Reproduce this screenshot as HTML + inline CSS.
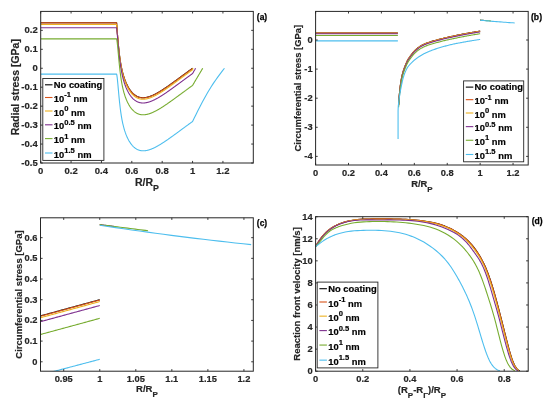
<!DOCTYPE html>
<html><head><meta charset="utf-8"><title>figure</title>
<style>html,body{margin:0;padding:0;background:#fff}svg{display:block}</style></head>
<body>
<svg width="550" height="404" viewBox="0 0 550 404">
<style>
text{font-family:"Liberation Sans", sans-serif;font-weight:bold;fill:#262626;stroke:#262626;stroke-width:.18px}
.lg{font-size:9.4px;fill:#000;stroke:#000}
.tg{font-size:9.7px;fill:#000;stroke:#000;stroke-width:0.25px}
.sp{font-size:7.6px}
</style>
<rect width="550" height="404" fill="#fff"/>
<clipPath id="cpa"><rect x="40.7" y="11.4" width="212.60000000000002" height="151.6"/></clipPath>
<polyline points="40.70,22.77 116.63,22.77 116.63,22.77 116.88,26.34 117.14,29.83 117.39,33.20 117.64,36.44 117.90,39.51 118.15,42.42 118.41,45.17 118.66,47.75 118.91,50.17 119.17,52.44 119.42,54.56 119.68,56.55 119.93,58.41 120.18,60.15 120.44,61.78 120.69,63.32 120.95,64.76 121.20,66.12 121.45,67.41 121.71,68.62 121.96,69.77 122.22,70.86 122.47,71.90 122.72,72.89 122.98,73.84 123.23,74.74 123.48,75.60 123.74,76.43 123.99,77.22 124.25,77.99 124.50,78.72 124.75,79.43 125.01,80.12 125.26,80.78 125.52,81.41 125.77,82.03 126.02,82.63 126.28,83.20 126.53,83.76 126.79,84.30 127.04,84.83 127.29,85.34 127.55,85.83 127.80,86.31 128.06,86.77 128.31,87.22 128.56,87.66 128.82,88.09 129.07,88.50 129.33,88.90 129.58,89.28 129.83,89.66 130.09,90.02 130.34,90.38 130.60,90.72 130.85,91.05 131.10,91.37 131.36,91.68 131.61,91.98 131.87,92.27 132.12,92.56 132.37,92.83 132.63,93.09 132.88,93.34 133.13,93.59 133.39,93.83 133.64,94.05 133.90,94.27 134.15,94.49 134.40,94.69 134.66,94.88 134.91,95.07 135.17,95.25 135.42,95.42 135.67,95.59 135.93,95.75 136.18,95.90 136.44,96.04 136.69,96.18 136.94,96.31 137.20,96.43 137.45,96.55 137.71,96.66 137.96,96.77 138.21,96.87 138.47,96.96 138.72,97.04 138.98,97.13 139.23,97.20 139.48,97.27 139.74,97.33 139.99,97.39 140.25,97.45 140.50,97.49 140.75,97.54 141.01,97.58 141.26,97.61 141.51,97.64 141.77,97.66 142.02,97.68 142.28,97.69 142.53,97.71 142.78,97.71 143.04,97.71 143.29,97.71 143.55,97.70 143.80,97.69 144.05,97.68 144.31,97.66 144.56,97.64 144.82,97.61 145.07,97.58 145.32,97.55 145.58,97.51 145.83,97.47 146.09,97.42 146.34,97.38 146.59,97.33 146.85,97.27 147.10,97.22 147.36,97.16 147.61,97.09 147.86,97.03 148.12,96.96 148.37,96.89 148.63,96.81 148.88,96.74 149.13,96.66 149.39,96.57 149.64,96.49 149.89,96.40 150.15,96.31 150.40,96.22 150.66,96.12 150.91,96.03 151.16,95.93 151.42,95.83 151.67,95.72 151.93,95.62 152.18,95.51 152.43,95.40 152.69,95.29 152.94,95.17 153.20,95.06 153.45,94.94 153.70,94.82 153.96,94.70 154.21,94.58 154.47,94.45 154.72,94.33 154.97,94.20 155.23,94.07 155.48,93.94 155.74,93.81 155.99,93.67 156.24,93.54 156.50,93.40 156.75,93.26 157.01,93.12 157.26,92.98 157.51,92.84 157.77,92.69 158.02,92.55 158.28,92.40 158.53,92.25 158.78,92.10 159.04,91.95 159.29,91.80 159.54,91.65 159.80,91.50 160.05,91.34 160.31,91.19 160.56,91.03 160.81,90.88 161.07,90.72 161.32,90.56 161.58,90.40 161.83,90.24 162.08,90.07 162.34,89.91 162.59,89.75 162.85,89.58 163.10,89.42 163.35,89.25 163.61,89.09 163.86,88.92 164.12,88.75 164.37,88.58 164.62,88.41 164.88,88.24 165.13,88.07 165.39,87.90 165.64,87.73 165.89,87.56 166.15,87.38 166.40,87.21 166.66,87.03 166.91,86.86 167.16,86.68 167.42,86.51 167.67,86.33 167.92,86.16 168.18,85.98 168.43,85.80 168.69,85.62 168.94,85.44 169.19,85.26 169.45,85.09 169.70,84.91 169.96,84.73 170.21,84.55 170.46,84.36 170.72,84.18 170.97,84.00 171.23,83.82 171.48,83.64 171.73,83.46 171.99,83.27 172.24,83.09 172.50,82.91 172.75,82.72 173.00,82.54 173.26,82.36 173.51,82.17 173.77,81.99 174.02,81.80 174.27,81.62 174.53,81.43 174.78,81.25 175.04,81.06 175.29,80.88 175.54,80.69 175.80,80.51 176.05,80.32 176.30,80.13 176.56,79.95 176.81,79.76 177.07,79.58 177.32,79.39 177.57,79.20 177.83,79.02 178.08,78.83 178.34,78.64 178.59,78.46 178.84,78.27 179.10,78.08 179.35,77.90 179.61,77.71 179.86,77.52 180.11,77.34 180.37,77.15 180.62,76.96 180.88,76.77 181.13,76.59 181.38,76.40 181.64,76.21 181.89,76.03 182.15,75.84 182.40,75.65 182.65,75.47 182.91,75.28 183.16,75.09 183.42,74.91 183.67,74.72 183.92,74.53 184.18,74.35 184.43,74.16 184.68,73.97 184.94,73.79 185.19,73.60 185.45,73.41 185.70,73.23 185.95,73.04 186.21,72.86 186.46,72.67 186.72,72.48 186.97,72.30 187.22,72.11 187.48,71.93 187.73,71.74 187.99,71.56 188.24,71.37 188.49,71.19 188.75,71.00 189.00,70.82 189.26,70.63 189.51,70.45 189.76,70.27 190.02,70.08 190.27,69.90 190.53,69.71 190.78,69.53 191.03,69.35 191.29,69.16 191.54,68.98 191.80,68.80 192.05,68.62 192.30,68.43 192.56,68.25" fill="none" stroke="#000000" stroke-width="1.1" stroke-linejoin="round" clip-path="url(#cpa)"/>
<polyline points="40.70,22.92 116.63,22.92 116.63,22.92 116.88,26.49 117.14,29.99 117.39,33.36 117.64,36.59 117.90,39.67 118.15,42.58 118.41,45.33 118.66,47.91 118.91,50.33 119.17,52.60 119.42,54.72 119.68,56.71 119.93,58.57 120.18,60.31 120.44,61.95 120.69,63.48 120.95,64.93 121.20,66.29 121.45,67.57 121.71,68.79 121.96,69.94 122.22,71.03 122.47,72.07 122.72,73.06 122.98,74.00 123.23,74.91 123.48,75.77 123.74,76.60 123.99,77.39 124.25,78.16 124.50,78.89 124.75,79.60 125.01,80.29 125.26,80.95 125.52,81.58 125.77,82.20 126.02,82.80 126.28,83.38 126.53,83.93 126.79,84.48 127.04,85.00 127.29,85.51 127.55,86.01 127.80,86.48 128.06,86.95 128.31,87.40 128.56,87.84 128.82,88.26 129.07,88.67 129.33,89.07 129.58,89.46 129.83,89.84 130.09,90.20 130.34,90.55 130.60,90.90 130.85,91.23 131.10,91.55 131.36,91.86 131.61,92.16 131.87,92.45 132.12,92.74 132.37,93.01 132.63,93.27 132.88,93.53 133.13,93.77 133.39,94.01 133.64,94.24 133.90,94.46 134.15,94.67 134.40,94.87 134.66,95.07 134.91,95.25 135.17,95.43 135.42,95.61 135.67,95.77 135.93,95.93 136.18,96.08 136.44,96.23 136.69,96.36 136.94,96.49 137.20,96.62 137.45,96.73 137.71,96.85 137.96,96.95 138.21,97.05 138.47,97.14 138.72,97.23 138.98,97.31 139.23,97.39 139.48,97.46 139.74,97.52 139.99,97.58 140.25,97.63 140.50,97.68 140.75,97.72 141.01,97.76 141.26,97.79 141.51,97.82 141.77,97.85 142.02,97.87 142.28,97.88 142.53,97.89 142.78,97.90 143.04,97.90 143.29,97.90 143.55,97.89 143.80,97.88 144.05,97.86 144.31,97.85 144.56,97.82 144.82,97.80 145.07,97.77 145.32,97.73 145.58,97.70 145.83,97.66 146.09,97.61 146.34,97.56 146.59,97.51 146.85,97.46 147.10,97.40 147.36,97.34 147.61,97.28 147.86,97.22 148.12,97.15 148.37,97.07 148.63,97.00 148.88,96.92 149.13,96.84 149.39,96.76 149.64,96.68 149.89,96.59 150.15,96.50 150.40,96.41 150.66,96.31 150.91,96.22 151.16,96.12 151.42,96.02 151.67,95.91 151.93,95.81 152.18,95.70 152.43,95.59 152.69,95.48 152.94,95.36 153.20,95.25 153.45,95.13 153.70,95.01 153.96,94.89 154.21,94.77 154.47,94.64 154.72,94.52 154.97,94.39 155.23,94.26 155.48,94.13 155.74,93.99 155.99,93.86 156.24,93.72 156.50,93.59 156.75,93.45 157.01,93.31 157.26,93.17 157.51,93.03 157.77,92.88 158.02,92.74 158.28,92.59 158.53,92.44 158.78,92.29 159.04,92.14 159.29,91.99 159.54,91.84 159.80,91.69 160.05,91.53 160.31,91.38 160.56,91.22 160.81,91.06 161.07,90.91 161.32,90.75 161.58,90.59 161.83,90.43 162.08,90.26 162.34,90.10 162.59,89.94 162.85,89.77 163.10,89.61 163.35,89.44 163.61,89.28 163.86,89.11 164.12,88.94 164.37,88.77 164.62,88.60 164.88,88.43 165.13,88.26 165.39,88.09 165.64,87.92 165.89,87.75 166.15,87.57 166.40,87.40 166.66,87.22 166.91,87.05 167.16,86.87 167.42,86.70 167.67,86.52 167.92,86.34 168.18,86.17 168.43,85.99 168.69,85.81 168.94,85.63 169.19,85.45 169.45,85.28 169.70,85.10 169.96,84.92 170.21,84.73 170.46,84.55 170.72,84.37 170.97,84.19 171.23,84.01 171.48,83.83 171.73,83.65 171.99,83.46 172.24,83.28 172.50,83.10 172.75,82.91 173.00,82.73 173.26,82.55 173.51,82.36 173.77,82.18 174.02,81.99 174.27,81.81 174.53,81.62 174.78,81.44 175.04,81.25 175.29,81.07 175.54,80.88 175.80,80.70 176.05,80.51 176.30,80.32 176.56,80.14 176.81,79.95 177.07,79.77 177.32,79.58 177.57,79.39 177.83,79.21 178.08,79.02 178.34,78.83 178.59,78.65 178.84,78.46 179.10,78.27 179.35,78.09 179.61,77.90 179.86,77.71 180.11,77.53 180.37,77.34 180.62,77.15 180.88,76.96 181.13,76.78 181.38,76.59 181.64,76.40 181.89,76.22 182.15,76.03 182.40,75.84 182.65,75.66 182.91,75.47 183.16,75.28 183.42,75.10 183.67,74.91 183.92,74.72 184.18,74.54 184.43,74.35 184.68,74.16 184.94,73.98 185.19,73.79 185.45,73.60 185.70,73.42 185.95,73.23 186.21,73.05 186.46,72.86 186.72,72.67 186.97,72.49 187.22,72.30 187.48,72.12 187.73,71.93 187.99,71.75 188.24,71.56 188.49,71.38 188.75,71.19 189.00,71.01 189.26,70.82 189.51,70.64 189.76,70.46 190.02,70.27 190.27,70.09 190.53,69.90 190.78,69.72 191.03,69.54 191.29,69.35 191.54,69.17 191.80,68.99 192.05,68.80 192.30,68.62 192.56,68.44" fill="none" stroke="#d95319" stroke-width="1.1" stroke-linejoin="round" clip-path="url(#cpa)"/>
<polyline points="40.70,24.48 116.63,24.48 116.63,24.48 116.88,27.47 117.14,30.54 117.39,33.63 117.64,36.69 117.90,39.67 118.15,42.55 118.41,45.31 118.66,47.93 118.91,50.42 119.17,52.76 119.42,54.96 119.68,57.04 119.93,58.98 120.18,60.81 120.44,62.52 120.69,64.13 120.95,65.64 121.20,67.06 121.45,68.41 121.71,69.67 121.96,70.87 122.22,72.01 122.47,73.09 122.72,74.11 122.98,75.09 123.23,76.02 123.48,76.91 123.74,77.76 123.99,78.58 124.25,79.36 124.50,80.12 124.75,80.84 125.01,81.54 125.26,82.21 125.52,82.86 125.77,83.49 126.02,84.10 126.28,84.68 126.53,85.25 126.79,85.80 127.04,86.33 127.29,86.85 127.55,87.35 127.80,87.83 128.06,88.30 128.31,88.75 128.56,89.19 128.82,89.62 129.07,90.03 129.33,90.44 129.58,90.82 129.83,91.20 130.09,91.57 130.34,91.92 130.60,92.27 130.85,92.60 131.10,92.92 131.36,93.23 131.61,93.53 131.87,93.82 132.12,94.11 132.37,94.38 132.63,94.64 132.88,94.90 133.13,95.14 133.39,95.38 133.64,95.60 133.90,95.82 134.15,96.03 134.40,96.24 134.66,96.43 134.91,96.62 135.17,96.80 135.42,96.97 135.67,97.14 135.93,97.29 136.18,97.44 136.44,97.59 136.69,97.72 136.94,97.85 137.20,97.98 137.45,98.09 137.71,98.20 137.96,98.31 138.21,98.41 138.47,98.50 138.72,98.58 138.98,98.66 139.23,98.74 139.48,98.81 139.74,98.87 139.99,98.93 140.25,98.98 140.50,99.03 140.75,99.07 141.01,99.11 141.26,99.14 141.51,99.17 141.77,99.19 142.02,99.21 142.28,99.23 142.53,99.24 142.78,99.24 143.04,99.24 143.29,99.24 143.55,99.23 143.80,99.22 144.05,99.21 144.31,99.19 144.56,99.16 144.82,99.14 145.07,99.11 145.32,99.07 145.58,99.04 145.83,98.99 146.09,98.95 146.34,98.90 146.59,98.85 146.85,98.80 147.10,98.74 147.36,98.68 147.61,98.62 147.86,98.55 148.12,98.48 148.37,98.41 148.63,98.34 148.88,98.26 149.13,98.18 149.39,98.10 149.64,98.01 149.89,97.92 150.15,97.83 150.40,97.74 150.66,97.65 150.91,97.55 151.16,97.45 151.42,97.35 151.67,97.24 151.93,97.14 152.18,97.03 152.43,96.92 152.69,96.81 152.94,96.69 153.20,96.58 153.45,96.46 153.70,96.34 153.96,96.22 154.21,96.10 154.47,95.97 154.72,95.85 154.97,95.72 155.23,95.59 155.48,95.46 155.74,95.32 155.99,95.19 156.24,95.05 156.50,94.92 156.75,94.78 157.01,94.64 157.26,94.50 157.51,94.35 157.77,94.21 158.02,94.07 158.28,93.92 158.53,93.77 158.78,93.62 159.04,93.47 159.29,93.32 159.54,93.17 159.80,93.02 160.05,92.86 160.31,92.71 160.56,92.55 160.81,92.39 161.07,92.23 161.32,92.07 161.58,91.91 161.83,91.75 162.08,91.59 162.34,91.43 162.59,91.27 162.85,91.10 163.10,90.94 163.35,90.77 163.61,90.60 163.86,90.44 164.12,90.27 164.37,90.10 164.62,89.93 164.88,89.76 165.13,89.59 165.39,89.42 165.64,89.24 165.89,89.07 166.15,88.90 166.40,88.73 166.66,88.55 166.91,88.38 167.16,88.20 167.42,88.02 167.67,87.85 167.92,87.67 168.18,87.49 168.43,87.32 168.69,87.14 168.94,86.96 169.19,86.78 169.45,86.60 169.70,86.42 169.96,86.24 170.21,86.06 170.46,85.88 170.72,85.70 170.97,85.52 171.23,85.34 171.48,85.15 171.73,84.97 171.99,84.79 172.24,84.61 172.50,84.42 172.75,84.24 173.00,84.06 173.26,83.87 173.51,83.69 173.77,83.50 174.02,83.32 174.27,83.13 174.53,82.95 174.78,82.76 175.04,82.58 175.29,82.39 175.54,82.21 175.80,82.02 176.05,81.84 176.30,81.65 176.56,81.46 176.81,81.28 177.07,81.09 177.32,80.91 177.57,80.72 177.83,80.53 178.08,80.35 178.34,80.16 178.59,79.97 178.84,79.79 179.10,79.60 179.35,79.41 179.61,79.23 179.86,79.04 180.11,78.85 180.37,78.66 180.62,78.48 180.88,78.29 181.13,78.10 181.38,77.92 181.64,77.73 181.89,77.54 182.15,77.36 182.40,77.17 182.65,76.98 182.91,76.80 183.16,76.61 183.42,76.42 183.67,76.24 183.92,76.05 184.18,75.86 184.43,75.68 184.68,75.49 184.94,75.30 185.19,75.12 185.45,74.93 185.70,74.74 185.95,74.56 186.21,74.37 186.46,74.19 186.72,74.00 186.97,73.82 187.22,73.63 187.48,73.44 187.73,73.26 187.99,73.07 188.24,72.89 188.49,72.70 188.75,72.52 189.00,72.33 189.26,72.15 189.51,71.97 189.76,71.78 190.02,71.60 190.27,71.41 190.53,71.23 190.78,71.05 191.03,70.86 191.29,70.68 191.54,70.50 191.80,70.31 192.05,70.13 192.30,69.95 192.56,69.77 192.56,69.77 192.58,69.69 192.61,69.61 192.63,69.53 192.65,69.45 192.68,69.37 192.70,69.29 192.72,69.21 192.75,69.13 192.77,69.05 192.80,68.97 192.82,68.89 192.84,68.81 192.87,68.73 192.89,68.65 192.92,68.57 192.94,68.49 192.96,68.41 192.99,68.33 193.01,68.25" fill="none" stroke="#edb120" stroke-width="1.1" stroke-linejoin="round" clip-path="url(#cpa)"/>
<polyline points="40.70,27.70 116.63,27.70 116.63,27.70 116.88,30.12 117.14,32.78 117.39,35.58 117.64,38.47 117.90,41.36 118.15,44.21 118.41,46.99 118.66,49.67 118.91,52.23 119.17,54.67 119.42,56.98 119.68,59.15 119.93,61.20 120.18,63.12 120.44,64.93 120.69,66.63 120.95,68.23 121.20,69.73 121.45,71.15 121.71,72.48 121.96,73.74 122.22,74.93 122.47,76.06 122.72,77.14 122.98,78.16 123.23,79.13 123.48,80.06 123.74,80.94 123.99,81.79 124.25,82.61 124.50,83.39 124.75,84.14 125.01,84.86 125.26,85.56 125.52,86.23 125.77,86.87 126.02,87.50 126.28,88.10 126.53,88.68 126.79,89.25 127.04,89.79 127.29,90.32 127.55,90.83 127.80,91.33 128.06,91.81 128.31,92.27 128.56,92.73 128.82,93.16 129.07,93.59 129.33,94.00 129.58,94.39 129.83,94.78 130.09,95.15 130.34,95.51 130.60,95.86 130.85,96.20 131.10,96.53 131.36,96.85 131.61,97.15 131.87,97.45 132.12,97.74 132.37,98.01 132.63,98.28 132.88,98.54 133.13,98.79 133.39,99.03 133.64,99.26 133.90,99.49 134.15,99.70 134.40,99.91 134.66,100.11 134.91,100.30 135.17,100.48 135.42,100.65 135.67,100.82 135.93,100.98 136.18,101.14 136.44,101.28 136.69,101.42 136.94,101.55 137.20,101.68 137.45,101.80 137.71,101.91 137.96,102.02 138.21,102.12 138.47,102.21 138.72,102.30 138.98,102.38 139.23,102.46 139.48,102.53 139.74,102.60 139.99,102.66 140.25,102.71 140.50,102.76 140.75,102.80 141.01,102.84 141.26,102.88 141.51,102.91 141.77,102.93 142.02,102.95 142.28,102.97 142.53,102.98 142.78,102.99 143.04,102.99 143.29,102.99 143.55,102.98 143.80,102.97 144.05,102.96 144.31,102.94 144.56,102.92 144.82,102.89 145.07,102.86 145.32,102.83 145.58,102.79 145.83,102.75 146.09,102.71 146.34,102.66 146.59,102.61 146.85,102.56 147.10,102.50 147.36,102.45 147.61,102.38 147.86,102.32 148.12,102.25 148.37,102.18 148.63,102.10 148.88,102.03 149.13,101.95 149.39,101.87 149.64,101.78 149.89,101.70 150.15,101.61 150.40,101.51 150.66,101.42 150.91,101.32 151.16,101.22 151.42,101.12 151.67,101.02 151.93,100.91 152.18,100.81 152.43,100.70 152.69,100.59 152.94,100.47 153.20,100.36 153.45,100.24 153.70,100.12 153.96,100.00 154.21,99.88 154.47,99.75 154.72,99.63 154.97,99.50 155.23,99.37 155.48,99.24 155.74,99.11 155.99,98.97 156.24,98.84 156.50,98.70 156.75,98.56 157.01,98.42 157.26,98.28 157.51,98.14 157.77,98.00 158.02,97.85 158.28,97.70 158.53,97.56 158.78,97.41 159.04,97.26 159.29,97.11 159.54,96.96 159.80,96.80 160.05,96.65 160.31,96.49 160.56,96.34 160.81,96.18 161.07,96.02 161.32,95.86 161.58,95.70 161.83,95.54 162.08,95.38 162.34,95.22 162.59,95.05 162.85,94.89 163.10,94.72 163.35,94.56 163.61,94.39 163.86,94.22 164.12,94.06 164.37,93.89 164.62,93.72 164.88,93.55 165.13,93.38 165.39,93.21 165.64,93.03 165.89,92.86 166.15,92.69 166.40,92.51 166.66,92.34 166.91,92.17 167.16,91.99 167.42,91.81 167.67,91.64 167.92,91.46 168.18,91.28 168.43,91.11 168.69,90.93 168.94,90.75 169.19,90.57 169.45,90.39 169.70,90.21 169.96,90.03 170.21,89.85 170.46,89.67 170.72,89.49 170.97,89.31 171.23,89.13 171.48,88.94 171.73,88.76 171.99,88.58 172.24,88.40 172.50,88.21 172.75,88.03 173.00,87.85 173.26,87.66 173.51,87.48 173.77,87.29 174.02,87.11 174.27,86.92 174.53,86.74 174.78,86.55 175.04,86.37 175.29,86.18 175.54,86.00 175.80,85.81 176.05,85.63 176.30,85.44 176.56,85.25 176.81,85.07 177.07,84.88 177.32,84.70 177.57,84.51 177.83,84.32 178.08,84.14 178.34,83.95 178.59,83.76 178.84,83.58 179.10,83.39 179.35,83.20 179.61,83.02 179.86,82.83 180.11,82.64 180.37,82.45 180.62,82.27 180.88,82.08 181.13,81.89 181.38,81.71 181.64,81.52 181.89,81.33 182.15,81.15 182.40,80.96 182.65,80.77 182.91,80.59 183.16,80.40 183.42,80.21 183.67,80.03 183.92,79.84 184.18,79.65 184.43,79.47 184.68,79.28 184.94,79.09 185.19,78.91 185.45,78.72 185.70,78.53 185.95,78.35 186.21,78.16 186.46,77.98 186.72,77.79 186.97,77.61 187.22,77.42 187.48,77.23 187.73,77.05 187.99,76.86 188.24,76.68 188.49,76.49 188.75,76.31 189.00,76.12 189.26,75.94 189.51,75.76 189.76,75.57 190.02,75.39 190.27,75.20 190.53,75.02 190.78,74.84 191.03,74.65 191.29,74.47 191.54,74.29 191.80,74.10 192.05,73.92 192.30,73.74 192.56,73.56 192.56,73.56 192.72,73.28 192.88,73.00 193.04,72.72 193.20,72.44 193.36,72.16 193.52,71.88 193.68,71.60 193.84,71.32 194.00,71.04 194.16,70.76 194.32,70.48 194.48,70.20 194.64,69.93 194.80,69.65 194.95,69.37 195.11,69.09 195.27,68.81 195.43,68.53 195.59,68.25" fill="none" stroke="#7e2f8e" stroke-width="1.1" stroke-linejoin="round" clip-path="url(#cpa)"/>
<polyline points="40.70,38.88 116.63,38.88 116.63,38.88 116.88,40.12 117.14,41.89 117.39,44.07 117.64,46.55 117.90,49.22 118.15,51.99 118.41,54.80 118.66,57.58 118.91,60.30 119.17,62.93 119.42,65.45 119.68,67.84 119.93,70.11 120.18,72.25 120.44,74.26 120.69,76.15 120.95,77.92 121.20,79.59 121.45,81.15 121.71,82.62 121.96,84.01 122.22,85.31 122.47,86.55 122.72,87.72 122.98,88.82 123.23,89.88 123.48,90.88 123.74,91.83 123.99,92.74 124.25,93.61 124.50,94.44 124.75,95.24 125.01,96.00 125.26,96.74 125.52,97.45 125.77,98.13 126.02,98.78 126.28,99.42 126.53,100.03 126.79,100.62 127.04,101.19 127.29,101.74 127.55,102.27 127.80,102.79 128.06,103.29 128.31,103.77 128.56,104.24 128.82,104.69 129.07,105.13 129.33,105.55 129.58,105.96 129.83,106.36 130.09,106.74 130.34,107.11 130.60,107.47 130.85,107.82 131.10,108.16 131.36,108.48 131.61,108.80 131.87,109.10 132.12,109.40 132.37,109.68 132.63,109.96 132.88,110.22 133.13,110.48 133.39,110.72 133.64,110.96 133.90,111.19 134.15,111.41 134.40,111.62 134.66,111.82 134.91,112.02 135.17,112.21 135.42,112.39 135.67,112.56 135.93,112.72 136.18,112.88 136.44,113.03 136.69,113.17 136.94,113.31 137.20,113.44 137.45,113.56 137.71,113.68 137.96,113.78 138.21,113.89 138.47,113.98 138.72,114.08 138.98,114.16 139.23,114.24 139.48,114.31 139.74,114.38 139.99,114.44 140.25,114.50 140.50,114.55 140.75,114.60 141.01,114.64 141.26,114.68 141.51,114.71 141.77,114.73 142.02,114.76 142.28,114.77 142.53,114.79 142.78,114.80 143.04,114.80 143.29,114.80 143.55,114.79 143.80,114.79 144.05,114.77 144.31,114.76 144.56,114.74 144.82,114.71 145.07,114.68 145.32,114.65 145.58,114.62 145.83,114.58 146.09,114.54 146.34,114.49 146.59,114.44 146.85,114.39 147.10,114.34 147.36,114.28 147.61,114.22 147.86,114.15 148.12,114.08 148.37,114.01 148.63,113.94 148.88,113.87 149.13,113.79 149.39,113.71 149.64,113.62 149.89,113.54 150.15,113.45 150.40,113.36 150.66,113.26 150.91,113.17 151.16,113.07 151.42,112.97 151.67,112.87 151.93,112.76 152.18,112.65 152.43,112.55 152.69,112.43 152.94,112.32 153.20,112.21 153.45,112.09 153.70,111.97 153.96,111.85 154.21,111.73 154.47,111.61 154.72,111.48 154.97,111.35 155.23,111.22 155.48,111.09 155.74,110.96 155.99,110.83 156.24,110.69 156.50,110.56 156.75,110.42 157.01,110.28 157.26,110.14 157.51,109.99 157.77,109.85 158.02,109.71 158.28,109.56 158.53,109.41 158.78,109.27 159.04,109.12 159.29,108.96 159.54,108.81 159.80,108.66 160.05,108.51 160.31,108.35 160.56,108.20 160.81,108.04 161.07,107.88 161.32,107.72 161.58,107.56 161.83,107.40 162.08,107.24 162.34,107.08 162.59,106.91 162.85,106.75 163.10,106.58 163.35,106.42 163.61,106.25 163.86,106.08 164.12,105.92 164.37,105.75 164.62,105.58 164.88,105.41 165.13,105.24 165.39,105.07 165.64,104.90 165.89,104.72 166.15,104.55 166.40,104.38 166.66,104.20 166.91,104.03 167.16,103.85 167.42,103.68 167.67,103.50 167.92,103.32 168.18,103.15 168.43,102.97 168.69,102.79 168.94,102.61 169.19,102.43 169.45,102.25 169.70,102.07 169.96,101.89 170.21,101.71 170.46,101.53 170.72,101.35 170.97,101.17 171.23,100.99 171.48,100.81 171.73,100.62 171.99,100.44 172.24,100.26 172.50,100.08 172.75,99.89 173.00,99.71 173.26,99.52 173.51,99.34 173.77,99.16 174.02,98.97 174.27,98.79 174.53,98.60 174.78,98.42 175.04,98.23 175.29,98.05 175.54,97.86 175.80,97.68 176.05,97.49 176.30,97.30 176.56,97.12 176.81,96.93 177.07,96.74 177.32,96.56 177.57,96.37 177.83,96.19 178.08,96.00 178.34,95.81 178.59,95.63 178.84,95.44 179.10,95.25 179.35,95.07 179.61,94.88 179.86,94.69 180.11,94.50 180.37,94.32 180.62,94.13 180.88,93.94 181.13,93.76 181.38,93.57 181.64,93.38 181.89,93.20 182.15,93.01 182.40,92.82 182.65,92.64 182.91,92.45 183.16,92.26 183.42,92.07 183.67,91.89 183.92,91.70 184.18,91.51 184.43,91.33 184.68,91.14 184.94,90.96 185.19,90.77 185.45,90.58 185.70,90.40 185.95,90.21 186.21,90.03 186.46,89.84 186.72,89.65 186.97,89.47 187.22,89.28 187.48,89.10 187.73,88.91 187.99,88.73 188.24,88.54 188.49,88.36 188.75,88.17 189.00,87.99 189.26,87.80 189.51,87.62 189.76,87.43 190.02,87.25 190.27,87.07 190.53,86.88 190.78,86.70 191.03,86.52 191.29,86.33 191.54,86.15 191.80,85.97 192.05,85.78 192.30,85.60 192.56,85.42 192.56,85.42 193.09,84.52 193.63,83.61 194.16,82.71 194.70,81.80 195.23,80.90 195.77,80.00 196.31,79.09 196.84,78.19 197.38,77.29 197.91,76.38 198.45,75.48 198.98,74.58 199.52,73.67 200.05,72.77 200.59,71.86 201.13,70.96 201.66,70.06 202.20,69.15 202.73,68.25" fill="none" stroke="#77ac30" stroke-width="1.1" stroke-linejoin="round" clip-path="url(#cpa)"/>
<polyline points="40.70,74.12 116.63,74.12 116.63,74.13 116.88,75.38 117.14,77.17 117.39,79.37 117.64,81.86 117.90,84.55 118.15,87.33 118.41,90.15 118.66,92.95 118.91,95.69 119.17,98.33 119.42,100.86 119.68,103.27 119.93,105.55 120.18,107.70 120.44,109.73 120.69,111.63 120.95,113.41 121.20,115.09 121.45,116.67 121.71,118.15 121.96,119.55 122.22,120.87 122.47,122.11 122.72,123.29 122.98,124.41 123.23,125.47 123.48,126.48 123.74,127.45 123.99,128.37 124.25,129.25 124.50,130.09 124.75,130.90 125.01,131.67 125.26,132.42 125.52,133.13 125.77,133.82 126.02,134.49 126.28,135.13 126.53,135.75 126.79,136.35 127.04,136.93 127.29,137.48 127.55,138.03 127.80,138.55 128.06,139.05 128.31,139.54 128.56,140.02 128.82,140.48 129.07,140.92 129.33,141.35 129.58,141.77 129.83,142.17 130.09,142.56 130.34,142.94 130.60,143.31 130.85,143.66 131.10,144.00 131.36,144.34 131.61,144.66 131.87,144.97 132.12,145.27 132.37,145.56 132.63,145.84 132.88,146.11 133.13,146.37 133.39,146.62 133.64,146.86 133.90,147.09 134.15,147.32 134.40,147.53 134.66,147.74 134.91,147.94 135.17,148.13 135.42,148.32 135.67,148.49 135.93,148.66 136.18,148.82 136.44,148.97 136.69,149.12 136.94,149.26 137.20,149.39 137.45,149.52 137.71,149.64 137.96,149.75 138.21,149.86 138.47,149.96 138.72,150.05 138.98,150.14 139.23,150.22 139.48,150.30 139.74,150.37 139.99,150.43 140.25,150.49 140.50,150.55 140.75,150.60 141.01,150.64 141.26,150.68 141.51,150.71 141.77,150.74 142.02,150.76 142.28,150.78 142.53,150.80 142.78,150.81 143.04,150.82 143.29,150.82 143.55,150.82 143.80,150.81 144.05,150.80 144.31,150.78 144.56,150.76 144.82,150.74 145.07,150.72 145.32,150.69 145.58,150.65 145.83,150.61 146.09,150.57 146.34,150.53 146.59,150.48 146.85,150.43 147.10,150.38 147.36,150.32 147.61,150.26 147.86,150.20 148.12,150.13 148.37,150.06 148.63,149.99 148.88,149.92 149.13,149.84 149.39,149.76 149.64,149.68 149.89,149.59 150.15,149.50 150.40,149.41 150.66,149.32 150.91,149.23 151.16,149.13 151.42,149.03 151.67,148.93 151.93,148.82 152.18,148.72 152.43,148.61 152.69,148.50 152.94,148.39 153.20,148.27 153.45,148.16 153.70,148.04 153.96,147.92 154.21,147.80 154.47,147.67 154.72,147.55 154.97,147.42 155.23,147.29 155.48,147.16 155.74,147.03 155.99,146.90 156.24,146.76 156.50,146.63 156.75,146.49 157.01,146.35 157.26,146.21 157.51,146.07 157.77,145.92 158.02,145.78 158.28,145.63 158.53,145.49 158.78,145.34 159.04,145.19 159.29,145.04 159.54,144.89 159.80,144.74 160.05,144.58 160.31,144.43 160.56,144.27 160.81,144.11 161.07,143.96 161.32,143.80 161.58,143.64 161.83,143.48 162.08,143.32 162.34,143.15 162.59,142.99 162.85,142.83 163.10,142.66 163.35,142.50 163.61,142.33 163.86,142.16 164.12,142.00 164.37,141.83 164.62,141.66 164.88,141.49 165.13,141.32 165.39,141.15 165.64,140.97 165.89,140.80 166.15,140.63 166.40,140.46 166.66,140.28 166.91,140.11 167.16,139.93 167.42,139.76 167.67,139.58 167.92,139.40 168.18,139.23 168.43,139.05 168.69,138.87 168.94,138.69 169.19,138.51 169.45,138.33 169.70,138.15 169.96,137.97 170.21,137.79 170.46,137.61 170.72,137.43 170.97,137.25 171.23,137.07 171.48,136.89 171.73,136.70 171.99,136.52 172.24,136.34 172.50,136.16 172.75,135.97 173.00,135.79 173.26,135.60 173.51,135.42 173.77,135.24 174.02,135.05 174.27,134.87 174.53,134.68 174.78,134.50 175.04,134.31 175.29,134.13 175.54,133.94 175.80,133.76 176.05,133.57 176.30,133.38 176.56,133.20 176.81,133.01 177.07,132.83 177.32,132.64 177.57,132.45 177.83,132.27 178.08,132.08 178.34,131.89 178.59,131.71 178.84,131.52 179.10,131.33 179.35,131.15 179.61,130.96 179.86,130.77 180.11,130.59 180.37,130.40 180.62,130.21 180.88,130.02 181.13,129.84 181.38,129.65 181.64,129.46 181.89,129.28 182.15,129.09 182.40,128.90 182.65,128.72 182.91,128.53 183.16,128.34 183.42,128.16 183.67,127.97 183.92,127.78 184.18,127.60 184.43,127.41 184.68,127.22 184.94,127.04 185.19,126.85 185.45,126.66 185.70,126.48 185.95,126.29 186.21,126.11 186.46,125.92 186.72,125.73 186.97,125.55 187.22,125.36 187.48,125.18 187.73,124.99 187.99,124.81 188.24,124.62 188.49,124.44 188.75,124.25 189.00,124.07 189.26,123.88 189.51,123.70 189.76,123.52 190.02,123.33 190.27,123.15 190.53,122.96 190.78,122.78 191.03,122.60 191.29,122.41 191.54,122.23 191.80,122.05 192.05,121.86 192.30,121.68 192.56,121.50 192.56,121.50 194.24,118.07 195.91,114.66 197.59,111.29 199.27,107.96 200.95,104.70 202.63,101.51 204.31,98.41 205.98,95.40 207.66,92.50 209.34,89.70 211.02,87.00 212.70,84.40 214.38,81.89 216.06,79.47 217.73,77.13 219.41,74.85 221.09,72.62 222.77,70.43 224.45,68.25" fill="none" stroke="#4dbeee" stroke-width="1.1" stroke-linejoin="round" clip-path="url(#cpa)"/>
<rect x="40.7" y="11.4" width="212.60" height="151.60" fill="none" stroke="#262626" stroke-width="1"/>
<path d="M40.70,163.0v-2.1M40.70,11.4v2.1M71.07,163.0v-2.1M71.07,11.4v2.1M101.44,163.0v-2.1M101.44,11.4v2.1M131.81,163.0v-2.1M131.81,11.4v2.1M162.19,163.0v-2.1M162.19,11.4v2.1M192.56,163.0v-2.1M192.56,11.4v2.1M222.93,163.0v-2.1M222.93,11.4v2.1M40.7,163.00h2.1M253.3,163.00h-2.1M40.7,144.05h2.1M253.3,144.05h-2.1M40.7,125.10h2.1M253.3,125.10h-2.1M40.7,106.15h2.1M253.3,106.15h-2.1M40.7,87.20h2.1M253.3,87.20h-2.1M40.7,68.25h2.1M253.3,68.25h-2.1M40.7,49.30h2.1M253.3,49.30h-2.1M40.7,30.35h2.1M253.3,30.35h-2.1" stroke="#262626" stroke-width="0.9" fill="none"/>
<g font-size="9.5" text-anchor="middle">
<text x="40.70" y="173.70">0</text>
<text x="71.07" y="173.70">0.2</text>
<text x="101.44" y="173.70">0.4</text>
<text x="131.81" y="173.70">0.6</text>
<text x="162.19" y="173.70">0.8</text>
<text x="192.56" y="173.70">1</text>
<text x="222.93" y="173.70">1.2</text>
</g>
<g font-size="9.5" text-anchor="end">
<text x="37.70" y="166.00">-0.5</text>
<text x="37.70" y="147.05">-0.4</text>
<text x="37.70" y="128.10">-0.3</text>
<text x="37.70" y="109.15">-0.2</text>
<text x="37.70" y="90.20">-0.1</text>
<text x="37.70" y="71.25">0</text>
<text x="37.70" y="52.30">0.1</text>
<text x="37.70" y="33.35">0.2</text>
</g>
<text x="147.00" y="186.20" text-anchor="middle" font-size="10.5">R/R<tspan font-size="8.82" dy="5.25">P</tspan></text>
<text transform="translate(18.70,87.20) rotate(-90)" text-anchor="middle" font-size="10.5">Radial stress [GPa]</text>
<text x="256.8" y="19.7" class="tg" textLength="10.4" lengthAdjust="spacingAndGlyphs">(a)</text>
<rect x="42.8" y="78.5" width="61.10000000000001" height="81.9" fill="#fff" stroke="#262626" stroke-width="0.9"/>
<path d="M45.00,84.80h7.5" stroke="#000000" stroke-width="1.1"/>
<text x="53.80" y="87.80" class="lg">No coating</text>
<path d="M45.00,97.50h7.5" stroke="#d95319" stroke-width="1.1"/>
<text x="53.80" y="102.00" class="lg">10<tspan class="sp" dy="-4.6">-1</tspan><tspan dy="4.6"> nm</tspan></text>
<path d="M45.00,111.00h7.5" stroke="#edb120" stroke-width="1.1"/>
<text x="53.80" y="115.50" class="lg">10<tspan class="sp" dy="-4.6">0</tspan><tspan dy="4.6"> nm</tspan></text>
<path d="M45.00,124.80h7.5" stroke="#7e2f8e" stroke-width="1.1"/>
<text x="53.80" y="129.30" class="lg">10<tspan class="sp" dy="-4.6">0.5</tspan><tspan dy="4.6"> nm</tspan></text>
<path d="M45.00,138.60h7.5" stroke="#77ac30" stroke-width="1.1"/>
<text x="53.80" y="143.10" class="lg">10<tspan class="sp" dy="-4.6">1</tspan><tspan dy="4.6"> nm</tspan></text>
<path d="M45.00,153.00h7.5" stroke="#4dbeee" stroke-width="1.1"/>
<text x="53.80" y="157.50" class="lg">10<tspan class="sp" dy="-4.6">1.5</tspan><tspan dy="4.6"> nm</tspan></text>
<clipPath id="cpb"><rect x="315.6" y="11.4" width="212.60000000000002" height="153.6"/></clipPath>
<polyline points="315.60,33.02 397.88,33.02" fill="none" stroke="#000000" stroke-width="1.1" stroke-linejoin="round" clip-path="url(#cpb)"/>
<polyline points="398.62,104.72 398.75,102.65 398.88,100.74 399.01,98.89 399.14,97.14 399.28,95.48 399.41,93.93 399.54,92.47 399.67,91.12 399.80,89.87 399.94,88.72 400.07,87.61 400.20,86.55 400.33,85.54 400.46,84.57 400.60,83.64 400.73,82.75 400.86,81.90 400.99,81.08 401.13,80.30 401.26,79.55 401.39,78.83 401.52,78.13 401.65,77.46 401.79,76.82 401.92,76.21 402.05,75.61 402.18,75.04 402.31,74.49 402.45,73.96 402.58,73.45 402.71,72.96 402.84,72.48 402.97,72.02 403.11,71.57 403.24,71.13 403.37,70.71 403.50,70.30 403.63,69.90 403.77,69.51 403.90,69.12 404.03,68.75 404.16,68.39 404.29,68.03 404.43,67.67 404.56,67.33 404.69,66.98 404.82,66.64 404.95,66.31 405.09,65.97 405.22,65.64 405.35,65.31 405.48,64.98 405.61,64.65 405.75,64.32 405.88,64.00 406.01,63.68 406.14,63.37 406.28,63.06 406.41,62.75 406.54,62.45 406.67,62.15 406.80,61.86 406.94,61.58 407.07,61.30 407.20,61.02 407.33,60.76 407.46,60.50 407.60,60.24 407.73,60.00 407.86,59.76 407.99,59.53 408.12,59.31 408.26,59.08 408.39,58.87 408.52,58.66 408.65,58.45 408.78,58.25 408.92,58.05 409.05,57.85 409.18,57.66 409.31,57.47 409.44,57.28 409.58,57.09 409.71,56.90 409.84,56.72 409.97,56.54 410.10,56.36 410.24,56.17 410.37,55.99 410.50,55.81 410.63,55.63 410.77,55.45 410.90,55.27 411.03,55.09 411.16,54.91 411.29,54.73 411.43,54.56 411.56,54.38 411.69,54.21 411.82,54.03 411.95,53.86 412.09,53.69 412.22,53.52 412.35,53.35 412.48,53.18 412.61,53.02 412.75,52.85 412.88,52.69 413.01,52.53 413.14,52.37 413.27,52.22 413.41,52.07 413.54,51.91 413.67,51.76 413.80,51.62 413.93,51.47 414.07,51.33 414.20,51.19 414.33,51.06 415.16,50.23 416.00,49.46 416.83,48.73 417.66,48.05 418.50,47.41 419.33,46.83 420.16,46.28 421.00,45.76 421.83,45.28 422.66,44.82 423.50,44.40 424.33,44.02 425.16,43.67 426.00,43.33 426.83,43.02 427.66,42.73 428.49,42.44 429.33,42.17 430.16,41.90 430.99,41.64 431.83,41.38 432.66,41.13 433.49,40.88 434.33,40.64 435.16,40.41 435.99,40.18 436.83,39.96 437.66,39.73 438.49,39.51 439.33,39.29 440.16,39.07 440.99,38.85 441.83,38.64 442.66,38.42 443.49,38.21 444.32,38.01 445.16,37.81 445.99,37.61 446.82,37.42 447.66,37.24 448.49,37.06 449.32,36.88 450.16,36.70 450.99,36.53 451.82,36.35 452.66,36.18 453.49,36.00 454.32,35.82 455.16,35.65 455.99,35.48 456.82,35.30 457.66,35.13 458.49,34.96 459.32,34.79 460.16,34.63 460.99,34.46 461.82,34.30 462.65,34.14 463.49,33.98 464.32,33.82 465.15,33.66 465.99,33.51 466.82,33.35 467.65,33.20 468.49,33.05 469.32,32.90 470.15,32.75 470.99,32.60 471.82,32.46 472.65,32.31 473.49,32.17 474.32,32.03 475.15,31.89 475.99,31.75 476.82,31.61 477.65,31.47 478.48,31.34 479.32,31.20 480.15,31.07" fill="none" stroke="#000000" stroke-width="1.1" stroke-linejoin="round" clip-path="url(#cpb)"/>
<polyline points="315.60,33.04 397.88,33.04" fill="none" stroke="#d95319" stroke-width="1.1" stroke-linejoin="round" clip-path="url(#cpb)"/>
<polyline points="398.62,104.81 398.75,102.74 398.88,100.83 399.01,98.98 399.14,97.22 399.28,95.57 399.41,94.01 399.54,92.56 399.67,91.21 399.80,89.96 399.94,88.80 400.07,87.70 400.20,86.64 400.33,85.63 400.46,84.66 400.60,83.73 400.73,82.84 400.86,81.99 400.99,81.17 401.13,80.39 401.26,79.63 401.39,78.91 401.52,78.22 401.65,77.55 401.79,76.91 401.92,76.29 402.05,75.70 402.18,75.13 402.31,74.58 402.45,74.05 402.58,73.54 402.71,73.05 402.84,72.57 402.97,72.10 403.11,71.66 403.24,71.22 403.37,70.80 403.50,70.39 403.63,69.98 403.77,69.59 403.90,69.21 404.03,68.84 404.16,68.47 404.29,68.11 404.43,67.76 404.56,67.41 404.69,67.07 404.82,66.73 404.95,66.39 405.09,66.06 405.22,65.72 405.35,65.39 405.48,65.06 405.61,64.74 405.75,64.41 405.88,64.09 406.01,63.77 406.14,63.45 406.28,63.14 406.41,62.84 406.54,62.54 406.67,62.24 406.80,61.95 406.94,61.66 407.07,61.38 407.20,61.11 407.33,60.84 407.46,60.58 407.60,60.33 407.73,60.09 407.86,59.85 407.99,59.62 408.12,59.39 408.26,59.17 408.39,58.96 408.52,58.74 408.65,58.54 408.78,58.33 408.92,58.13 409.05,57.94 409.18,57.74 409.31,57.55 409.44,57.36 409.58,57.18 409.71,56.99 409.84,56.81 409.97,56.63 410.10,56.44 410.24,56.26 410.37,56.08 410.50,55.90 410.63,55.72 410.77,55.54 410.90,55.36 411.03,55.18 411.16,55.00 411.29,54.82 411.43,54.64 411.56,54.47 411.69,54.29 411.82,54.12 411.95,53.95 412.09,53.77 412.22,53.60 412.35,53.44 412.48,53.27 412.61,53.10 412.75,52.94 412.88,52.78 413.01,52.62 413.14,52.46 413.27,52.31 413.41,52.15 413.54,52.00 413.67,51.85 413.80,51.71 413.93,51.56 414.07,51.42 414.20,51.28 414.33,51.15 415.16,50.32 416.00,49.54 416.83,48.81 417.66,48.13 418.50,47.50 419.33,46.92 420.16,46.37 421.00,45.85 421.83,45.36 422.66,44.91 423.50,44.49 424.33,44.11 425.16,43.75 426.00,43.42 426.83,43.11 427.66,42.81 428.49,42.53 429.33,42.26 430.16,41.99 430.99,41.73 431.83,41.47 432.66,41.22 433.49,40.97 434.33,40.73 435.16,40.50 435.99,40.27 436.83,40.04 437.66,39.82 438.49,39.60 439.33,39.38 440.16,39.16 440.99,38.94 441.83,38.72 442.66,38.51 443.49,38.30 444.32,38.09 445.16,37.89 445.99,37.70 446.82,37.51 447.66,37.33 448.49,37.15 449.32,36.97 450.16,36.79 450.99,36.62 451.82,36.44 452.66,36.26 453.49,36.09 454.32,35.91 455.16,35.74 455.99,35.56 456.82,35.39 457.66,35.22 458.49,35.05 459.32,34.88 460.16,34.71 460.99,34.55 461.82,34.39 462.65,34.23 463.49,34.07 464.32,33.91 465.15,33.75 465.99,33.59 466.82,33.44 467.65,33.29 468.49,33.14 469.32,32.99 470.15,32.84 470.99,32.69 471.82,32.54 472.65,32.40 473.49,32.26 474.32,32.11 475.15,31.97 475.99,31.83 476.82,31.70 477.65,31.56 478.48,31.42 479.32,31.29 480.15,31.16" fill="none" stroke="#d95319" stroke-width="1.1" stroke-linejoin="round" clip-path="url(#cpb)"/>
<polyline points="315.60,33.28 397.88,33.28" fill="none" stroke="#edb120" stroke-width="1.1" stroke-linejoin="round" clip-path="url(#cpb)"/>
<polyline points="398.62,105.02 398.75,102.95 398.88,101.03 399.01,99.18 399.14,97.43 399.28,95.77 399.41,94.22 399.54,92.76 399.67,91.41 399.80,90.16 399.94,89.01 400.07,87.90 400.20,86.84 400.33,85.83 400.46,84.86 400.60,83.93 400.73,83.04 400.86,82.19 400.99,81.37 401.13,80.59 401.26,79.84 401.39,79.12 401.52,78.42 401.65,77.76 401.79,77.11 401.92,76.50 402.05,75.90 402.18,75.33 402.31,74.78 402.45,74.25 402.58,73.74 402.71,73.25 402.84,72.77 402.97,72.31 403.11,71.86 403.24,71.42 403.37,71.00 403.50,70.59 403.63,70.19 403.77,69.80 403.90,69.42 404.03,69.04 404.16,68.68 404.29,68.32 404.43,67.97 404.56,67.62 404.69,67.27 404.82,66.93 404.95,66.60 405.09,66.26 405.22,65.93 405.35,65.60 405.48,65.27 405.61,64.94 405.75,64.61 405.88,64.29 406.01,63.97 406.14,63.66 406.28,63.35 406.41,63.04 406.54,62.74 406.67,62.44 406.80,62.15 406.94,61.87 407.07,61.59 407.20,61.31 407.33,61.05 407.46,60.79 407.60,60.54 407.73,60.29 407.86,60.05 407.99,59.82 408.12,59.60 408.26,59.38 408.39,59.16 408.52,58.95 408.65,58.74 408.78,58.54 408.92,58.34 409.05,58.14 409.18,57.95 409.31,57.76 409.44,57.57 409.58,57.38 409.71,57.20 409.84,57.01 409.97,56.83 410.10,56.65 410.24,56.47 410.37,56.28 410.50,56.10 410.63,55.92 410.77,55.74 410.90,55.56 411.03,55.38 411.16,55.20 411.29,55.02 411.43,54.85 411.56,54.67 411.69,54.50 411.82,54.32 411.95,54.15 412.09,53.98 412.22,53.81 412.35,53.64 412.48,53.47 412.61,53.31 412.75,53.14 412.88,52.98 413.01,52.82 413.14,52.67 413.27,52.51 413.41,52.36 413.54,52.20 413.67,52.06 413.80,51.91 413.93,51.77 414.07,51.62 414.20,51.49 414.33,51.35 415.16,50.52 416.00,49.75 416.83,49.02 417.66,48.34 418.50,47.70 419.33,47.12 420.16,46.57 421.00,46.05 421.83,45.57 422.66,45.11 423.50,44.69 424.33,44.31 425.16,43.96 426.00,43.63 426.83,43.31 427.66,43.02 428.49,42.73 429.33,42.46 430.16,42.19 430.99,41.93 431.83,41.67 432.66,41.42 433.49,41.17 434.33,40.94 435.16,40.70 435.99,40.47 436.83,40.25 437.66,40.02 438.49,39.80 439.33,39.58 440.16,39.36 440.99,39.14 441.83,38.93 442.66,38.71 443.49,38.50 444.32,38.30 445.16,38.10 445.99,37.90 446.82,37.72 447.66,37.53 448.49,37.35 449.32,37.17 450.16,37.00 450.99,36.82 451.82,36.64 452.66,36.47 453.49,36.29 454.32,36.12 455.16,35.94 455.99,35.77 456.82,35.59 457.66,35.42 458.49,35.25 459.32,35.08 460.16,34.92 460.99,34.75 461.82,34.59 462.65,34.43 463.49,34.27 464.32,34.11 465.15,33.95 465.99,33.80 466.82,33.64 467.65,33.49 468.49,33.34 469.32,33.19 470.15,33.04 470.99,32.89 471.82,32.75 472.65,32.60 473.49,32.46 474.32,32.32 475.15,32.18 475.99,32.04 476.82,31.90 477.65,31.76 478.48,31.63 479.32,31.49 480.15,31.36" fill="none" stroke="#edb120" stroke-width="1.1" stroke-linejoin="round" clip-path="url(#cpb)"/>
<polyline points="480.15,20.13 480.18,20.13 480.20,20.13 480.23,20.13 480.26,20.14 480.28,20.14 480.31,20.14 480.33,20.14 480.36,20.15 480.38,20.15 480.41,20.15 480.44,20.15 480.46,20.15 480.49,20.16 480.51,20.16 480.54,20.16 480.57,20.16 480.59,20.16 480.62,20.17 480.64,20.17" fill="none" stroke="#edb120" stroke-width="1.1" stroke-linejoin="round" clip-path="url(#cpb)"/>
<polyline points="315.60,33.78 397.88,33.78" fill="none" stroke="#7e2f8e" stroke-width="1.1" stroke-linejoin="round" clip-path="url(#cpb)"/>
<polyline points="398.62,105.54 398.75,103.47 398.88,101.55 399.01,99.70 399.14,97.95 399.28,96.30 399.41,94.74 399.54,93.29 399.67,91.94 399.80,90.69 399.94,89.53 400.07,88.43 400.20,87.37 400.33,86.36 400.46,85.39 400.60,84.46 400.73,83.57 400.86,82.71 400.99,81.90 401.13,81.11 401.26,80.36 401.39,79.64 401.52,78.95 401.65,78.28 401.79,77.64 401.92,77.02 402.05,76.43 402.18,75.86 402.31,75.31 402.45,74.78 402.58,74.27 402.71,73.77 402.84,73.29 402.97,72.83 403.11,72.38 403.24,71.95 403.37,71.52 403.50,71.11 403.63,70.71 403.77,70.32 403.90,69.94 404.03,69.57 404.16,69.20 404.29,68.84 404.43,68.49 404.56,68.14 404.69,67.80 404.82,67.46 404.95,67.12 405.09,66.79 405.22,66.45 405.35,66.12 405.48,65.79 405.61,65.46 405.75,65.14 405.88,64.82 406.01,64.50 406.14,64.18 406.28,63.87 406.41,63.57 406.54,63.26 406.67,62.97 406.80,62.68 406.94,62.39 407.07,62.11 407.20,61.84 407.33,61.57 407.46,61.31 407.60,61.06 407.73,60.81 407.86,60.58 407.99,60.35 408.12,60.12 408.26,59.90 408.39,59.68 408.52,59.47 408.65,59.26 408.78,59.06 408.92,58.86 409.05,58.66 409.18,58.47 409.31,58.28 409.44,58.09 409.58,57.90 409.71,57.72 409.84,57.54 409.97,57.35 410.10,57.17 410.24,56.99 410.37,56.81 410.50,56.63 410.63,56.44 410.77,56.26 410.90,56.08 411.03,55.90 411.16,55.73 411.29,55.55 411.43,55.37 411.56,55.19 411.69,55.02 411.82,54.85 411.95,54.67 412.09,54.50 412.22,54.33 412.35,54.16 412.48,54.00 412.61,53.83 412.75,53.67 412.88,53.51 413.01,53.35 413.14,53.19 413.27,53.03 413.41,52.88 413.54,52.73 413.67,52.58 413.80,52.43 413.93,52.29 414.07,52.15 414.20,52.01 414.33,51.87 415.16,51.05 416.00,50.27 416.83,49.54 417.66,48.86 418.50,48.23 419.33,47.65 420.16,47.10 421.00,46.58 421.83,46.09 422.66,45.64 423.50,45.22 424.33,44.83 425.16,44.48 426.00,44.15 426.83,43.84 427.66,43.54 428.49,43.26 429.33,42.99 430.16,42.72 430.99,42.45 431.83,42.19 432.66,41.94 433.49,41.70 434.33,41.46 435.16,41.23 435.99,41.00 436.83,40.77 437.66,40.55 438.49,40.33 439.33,40.11 440.16,39.89 440.99,39.67 441.83,39.45 442.66,39.24 443.49,39.03 444.32,38.82 445.16,38.62 445.99,38.43 446.82,38.24 447.66,38.06 448.49,37.87 449.32,37.70 450.16,37.52 450.99,37.34 451.82,37.17 452.66,36.99 453.49,36.81 454.32,36.64 455.16,36.46 455.99,36.29 456.82,36.12 457.66,35.95 458.49,35.78 459.32,35.61 460.16,35.44 460.99,35.28 461.82,35.11 462.65,34.95 463.49,34.79 464.32,34.63 465.15,34.48 465.99,34.32 466.82,34.17 467.65,34.01 468.49,33.86 469.32,33.71 470.15,33.56 470.99,33.42 471.82,33.27 472.65,33.13 473.49,32.98 474.32,32.84 475.15,32.70 475.99,32.56 476.82,32.42 477.65,32.29 478.48,32.15 479.32,32.02 480.15,31.88" fill="none" stroke="#7e2f8e" stroke-width="1.1" stroke-linejoin="round" clip-path="url(#cpb)"/>
<polyline points="480.15,20.13 480.32,20.14 480.50,20.16 480.67,20.17 480.84,20.18 481.02,20.20 481.19,20.21 481.36,20.22 481.54,20.24 481.71,20.25 481.88,20.26 482.06,20.28 482.23,20.29 482.40,20.30 482.58,20.32 482.75,20.33 482.92,20.34 483.10,20.36 483.27,20.37 483.44,20.38" fill="none" stroke="#7e2f8e" stroke-width="1.1" stroke-linejoin="round" clip-path="url(#cpb)"/>
<polyline points="315.60,35.49 397.88,35.49" fill="none" stroke="#77ac30" stroke-width="1.1" stroke-linejoin="round" clip-path="url(#cpb)"/>
<polyline points="398.62,107.34 398.75,105.27 398.88,103.36 399.01,101.51 399.14,99.75 399.28,98.10 399.41,96.55 399.54,95.09 399.67,93.74 399.80,92.49 399.94,91.34 400.07,90.23 400.20,89.17 400.33,88.16 400.46,87.19 400.60,86.26 400.73,85.37 400.86,84.52 400.99,83.70 401.13,82.92 401.26,82.17 401.39,81.44 401.52,80.75 401.65,80.08 401.79,79.44 401.92,78.83 402.05,78.23 402.18,77.66 402.31,77.11 402.45,76.58 402.58,76.07 402.71,75.58 402.84,75.10 402.97,74.64 403.11,74.19 403.24,73.75 403.37,73.33 403.50,72.92 403.63,72.52 403.77,72.13 403.90,71.74 404.03,71.37 404.16,71.00 404.29,70.65 404.43,70.29 404.56,69.95 404.69,69.60 404.82,69.26 404.95,68.92 405.09,68.59 405.22,68.26 405.35,67.92 405.48,67.59 405.61,67.27 405.75,66.94 405.88,66.62 406.01,66.30 406.14,65.99 406.28,65.68 406.41,65.37 406.54,65.07 406.67,64.77 406.80,64.48 406.94,64.19 407.07,63.91 407.20,63.64 407.33,63.37 407.46,63.11 407.60,62.86 407.73,62.62 407.86,62.38 407.99,62.15 408.12,61.92 408.26,61.70 408.39,61.49 408.52,61.28 408.65,61.07 408.78,60.86 408.92,60.67 409.05,60.47 409.18,60.27 409.31,60.08 409.44,59.90 409.58,59.71 409.71,59.52 409.84,59.34 409.97,59.16 410.10,58.97 410.24,58.79 410.37,58.61 410.50,58.43 410.63,58.25 410.77,58.07 410.90,57.89 411.03,57.71 411.16,57.53 411.29,57.35 411.43,57.17 411.56,57.00 411.69,56.82 411.82,56.65 411.95,56.48 412.09,56.31 412.22,56.14 412.35,55.97 412.48,55.80 412.61,55.64 412.75,55.47 412.88,55.31 413.01,55.15 413.14,54.99 413.27,54.84 413.41,54.68 413.54,54.53 413.67,54.38 413.80,54.24 413.93,54.09 414.07,53.95 414.20,53.81 414.33,53.68 415.16,52.85 416.00,52.07 416.83,51.34 417.66,50.66 418.50,50.03 419.33,49.45 420.16,48.90 421.00,48.38 421.83,47.90 422.66,47.44 423.50,47.02 424.33,46.64 425.16,46.28 426.00,45.95 426.83,45.64 427.66,45.35 428.49,45.06 429.33,44.79 430.16,44.52 430.99,44.26 431.83,44.00 432.66,43.75 433.49,43.50 434.33,43.26 435.16,43.03 435.99,42.80 436.83,42.58 437.66,42.35 438.49,42.13 439.33,41.91 440.16,41.69 440.99,41.47 441.83,41.25 442.66,41.04 443.49,40.83 444.32,40.62 445.16,40.43 445.99,40.23 446.82,40.04 447.66,39.86 448.49,39.68 449.32,39.50 450.16,39.32 450.99,39.15 451.82,38.97 452.66,38.79 453.49,38.62 454.32,38.44 455.16,38.27 455.99,38.09 456.82,37.92 457.66,37.75 458.49,37.58 459.32,37.41 460.16,37.25 460.99,37.08 461.82,36.92 462.65,36.76 463.49,36.60 464.32,36.44 465.15,36.28 465.99,36.13 466.82,35.97 467.65,35.82 468.49,35.67 469.32,35.52 470.15,35.37 470.99,35.22 471.82,35.08 472.65,34.93 473.49,34.79 474.32,34.65 475.15,34.50 475.99,34.37 476.82,34.23 477.65,34.09 478.48,33.95 479.32,33.82 480.15,33.69" fill="none" stroke="#77ac30" stroke-width="1.1" stroke-linejoin="round" clip-path="url(#cpb)"/>
<polyline points="480.15,20.13 480.73,20.17 481.31,20.22 481.89,20.26 482.47,20.31 483.05,20.35 483.63,20.40 484.21,20.44 484.79,20.49 485.37,20.54 485.95,20.58 486.53,20.63 487.11,20.67 487.69,20.72 488.27,20.76 488.85,20.81 489.44,20.85 490.02,20.90 490.60,20.94 491.18,20.99" fill="none" stroke="#77ac30" stroke-width="1.1" stroke-linejoin="round" clip-path="url(#cpb)"/>
<polyline points="315.60,40.90 397.88,40.90" fill="none" stroke="#4dbeee" stroke-width="1.1" stroke-linejoin="round" clip-path="url(#cpb)"/>
<polyline points="398.07,138.93 398.08,110.71 398.22,106.97 398.35,105.93 398.49,104.37 398.63,103.07 398.76,101.91 398.90,100.80 399.04,99.71 399.17,98.68 399.31,97.68 399.45,96.73 399.58,95.82 399.72,94.93 399.86,94.08 399.99,93.26 400.13,92.46 400.27,91.69 400.40,90.93 400.54,90.20 400.68,89.48 400.81,88.77 400.95,88.08 401.09,87.40 401.22,86.73 401.36,86.06 401.49,85.40 401.63,84.73 401.77,84.07 401.90,83.41 402.04,82.76 402.18,82.11 402.31,81.48 402.45,80.86 402.59,80.27 402.72,79.69 402.86,79.14 403.00,78.61 403.13,78.11 403.27,77.64 403.41,77.17 403.54,76.72 403.68,76.28 403.82,75.85 403.95,75.43 404.09,75.02 404.23,74.63 404.36,74.24 404.50,73.87 404.64,73.50 404.77,73.15 404.91,72.80 405.05,72.47 405.18,72.14 405.32,71.82 405.45,71.50 405.59,71.19 405.73,70.88 405.86,70.57 406.00,70.28 406.14,69.98 406.27,69.70 406.41,69.42 406.55,69.15 406.68,68.88 406.82,68.62 406.96,68.37 407.09,68.12 407.23,67.89 407.37,67.66 407.50,67.44 407.64,67.22 407.78,67.02 407.91,66.82 408.05,66.63 408.19,66.45 408.32,66.27 408.46,66.09 408.60,65.92 408.73,65.75 408.87,65.59 409.01,65.43 409.14,65.27 409.28,65.12 409.41,64.97 409.55,64.82 409.69,64.67 409.82,64.53 409.96,64.39 410.10,64.24 410.23,64.10 410.37,63.96 410.51,63.82 410.64,63.68 410.78,63.55 410.92,63.41 411.05,63.26 411.19,63.12 411.33,62.98 411.46,62.84 411.60,62.71 411.74,62.57 411.87,62.43 412.01,62.30 412.15,62.16 412.28,62.03 412.42,61.90 412.56,61.76 412.69,61.63 412.83,61.50 412.97,61.37 413.10,61.25 413.24,61.12 413.37,61.00 413.51,60.87 413.65,60.75 413.78,60.63 413.92,60.51 414.06,60.39 414.19,60.27 414.33,60.16 415.16,59.48 416.00,58.83 416.83,58.22 417.66,57.64 418.50,57.08 419.33,56.53 420.16,56.00 421.00,55.48 421.83,54.98 422.66,54.50 423.50,54.05 424.33,53.61 425.16,53.20 426.00,52.80 426.83,52.42 427.66,52.05 428.49,51.69 429.33,51.34 430.16,51.00 430.99,50.67 431.83,50.35 432.66,50.04 433.49,49.73 434.33,49.43 435.16,49.14 435.99,48.86 436.83,48.58 437.66,48.31 438.49,48.04 439.33,47.78 440.16,47.52 440.99,47.27 441.83,47.02 442.66,46.78 443.49,46.55 444.32,46.32 445.16,46.10 445.99,45.88 446.82,45.66 447.66,45.45 448.49,45.24 449.32,45.03 450.16,44.83 450.99,44.64 451.82,44.45 452.66,44.26 453.49,44.08 454.32,43.91 455.16,43.74 455.99,43.57 456.82,43.40 457.66,43.24 458.49,43.08 459.32,42.92 460.16,42.76 460.99,42.61 461.82,42.45 462.65,42.30 463.49,42.14 464.32,41.99 465.15,41.84 465.99,41.70 466.82,41.55 467.65,41.41 468.49,41.26 469.32,41.12 470.15,40.98 470.99,40.84 471.82,40.71 472.65,40.57 473.49,40.44 474.32,40.31 475.15,40.18 475.99,40.05 476.82,39.92 477.65,39.79 478.48,39.67 479.32,39.54 480.15,39.42" fill="none" stroke="#4dbeee" stroke-width="1.1" stroke-linejoin="round" clip-path="url(#cpb)"/>
<polyline points="480.15,20.22 481.97,20.39 483.79,20.55 485.61,20.71 487.43,20.88 489.24,21.03 491.06,21.19 492.88,21.34 494.70,21.49 496.52,21.64 498.34,21.78 500.16,21.92 501.98,22.06 503.79,22.19 505.61,22.32 507.43,22.45 509.25,22.58 511.07,22.70 512.89,22.82 514.71,22.94" fill="none" stroke="#4dbeee" stroke-width="1.1" stroke-linejoin="round" clip-path="url(#cpb)"/>
<rect x="315.6" y="11.4" width="212.60" height="153.60" fill="none" stroke="#262626" stroke-width="1"/>
<path d="M315.60,165.0v-2.1M315.60,11.4v2.1M348.51,165.0v-2.1M348.51,11.4v2.1M381.42,165.0v-2.1M381.42,11.4v2.1M414.33,165.0v-2.1M414.33,11.4v2.1M447.24,165.0v-2.1M447.24,11.4v2.1M480.15,165.0v-2.1M480.15,11.4v2.1M513.06,165.0v-2.1M513.06,11.4v2.1M315.6,156.39h2.1M528.2,156.39h-2.1M315.6,127.29h2.1M528.2,127.29h-2.1M315.6,98.19h2.1M528.2,98.19h-2.1M315.6,69.10h2.1M528.2,69.10h-2.1M315.6,40.00h2.1M528.2,40.00h-2.1" stroke="#262626" stroke-width="0.9" fill="none"/>
<g font-size="9.3" text-anchor="middle">
<text x="315.60" y="175.70">0</text>
<text x="348.51" y="175.70">0.2</text>
<text x="381.42" y="175.70">0.4</text>
<text x="414.33" y="175.70">0.6</text>
<text x="447.24" y="175.70">0.8</text>
<text x="480.15" y="175.70">1</text>
<text x="513.06" y="175.70">1.2</text>
</g>
<g font-size="9.3" text-anchor="end">
<text x="312.60" y="159.39">-4</text>
<text x="312.60" y="130.29">-3</text>
<text x="312.60" y="101.19">-2</text>
<text x="312.60" y="72.10">-1</text>
<text x="312.60" y="43.00">0</text>
</g>
<text x="421.90" y="187.00" text-anchor="middle" font-size="9.4">R/R<tspan font-size="7.90" dy="4.70">P</tspan></text>
<text transform="translate(301.00,88.20) rotate(-90)" text-anchor="middle" font-size="9.4">Circumferential stress [GPa]</text>
<text x="531.0" y="19.7" class="tg" textLength="11.0" lengthAdjust="spacingAndGlyphs">(b)</text>
<rect x="463.6" y="80.9" width="60.10000000000002" height="80.9" fill="#fff" stroke="#262626" stroke-width="0.9"/>
<path d="M465.80,87.12h7.5" stroke="#000000" stroke-width="1.1"/>
<text x="474.60" y="90.12" class="lg">No coating</text>
<path d="M465.80,99.67h7.5" stroke="#d95319" stroke-width="1.1"/>
<text x="474.60" y="104.17" class="lg">10<tspan class="sp" dy="-4.6">-1</tspan><tspan dy="4.6"> nm</tspan></text>
<path d="M465.80,113.00h7.5" stroke="#edb120" stroke-width="1.1"/>
<text x="474.60" y="117.50" class="lg">10<tspan class="sp" dy="-4.6">0</tspan><tspan dy="4.6"> nm</tspan></text>
<path d="M465.80,126.63h7.5" stroke="#7e2f8e" stroke-width="1.1"/>
<text x="474.60" y="131.13" class="lg">10<tspan class="sp" dy="-4.6">0.5</tspan><tspan dy="4.6"> nm</tspan></text>
<path d="M465.80,140.27h7.5" stroke="#77ac30" stroke-width="1.1"/>
<text x="474.60" y="144.77" class="lg">10<tspan class="sp" dy="-4.6">1</tspan><tspan dy="4.6"> nm</tspan></text>
<path d="M465.80,154.49h7.5" stroke="#4dbeee" stroke-width="1.1"/>
<text x="474.60" y="158.99" class="lg">10<tspan class="sp" dy="-4.6">1.5</tspan><tspan dy="4.6"> nm</tspan></text>
<clipPath id="cpc"><rect x="40.5" y="217.8" width="212.8" height="153.39999999999998"/></clipPath>
<polyline points="27.67,319.38 29.14,318.98 30.61,318.57 32.08,318.17 33.55,317.77 35.02,317.37 36.50,316.97 37.97,316.57 39.44,316.17 40.91,315.77 42.38,315.37 43.85,314.97 45.32,314.56 46.79,314.16 48.26,313.76 49.74,313.36 51.21,312.96 52.68,312.56 54.15,312.16 55.62,311.76 57.09,311.36 58.56,310.95 60.03,310.55 61.51,310.15 62.98,309.75 64.45,309.35 65.92,308.95 67.39,308.55 68.86,308.15 70.33,307.75 71.80,307.34 73.27,306.94 74.75,306.54 76.22,306.14 77.69,305.74 79.16,305.34 80.63,304.94 82.10,304.54 83.57,304.14 85.04,303.73 86.51,303.33 87.99,302.93 89.46,302.53 90.93,302.13 92.40,301.73 93.87,301.33 95.34,300.93 96.81,300.53 98.28,300.12 99.76,299.72" fill="none" stroke="#000000" stroke-width="1.1" stroke-linejoin="round" clip-path="url(#cpc)"/>
<polyline points="27.67,319.69 29.14,319.29 30.61,318.89 32.08,318.48 33.55,318.08 35.02,317.68 36.50,317.28 37.97,316.88 39.44,316.48 40.91,316.08 42.38,315.68 43.85,315.28 45.32,314.87 46.79,314.47 48.26,314.07 49.74,313.67 51.21,313.27 52.68,312.87 54.15,312.47 55.62,312.07 57.09,311.67 58.56,311.26 60.03,310.86 61.51,310.46 62.98,310.06 64.45,309.66 65.92,309.26 67.39,308.86 68.86,308.46 70.33,308.06 71.80,307.65 73.27,307.25 74.75,306.85 76.22,306.45 77.69,306.05 79.16,305.65 80.63,305.25 82.10,304.85 83.57,304.45 85.04,304.04 86.51,303.64 87.99,303.24 89.46,302.84 90.93,302.44 92.40,302.04 93.87,301.64 95.34,301.24 96.81,300.84 98.28,300.44 99.76,300.03" fill="none" stroke="#d95319" stroke-width="1.1" stroke-linejoin="round" clip-path="url(#cpc)"/>
<polyline points="27.67,321.24 29.14,320.84 30.61,320.44 32.08,320.04 33.55,319.63 35.02,319.23 36.50,318.83 37.97,318.43 39.44,318.03 40.91,317.63 42.38,317.23 43.85,316.83 45.32,316.43 46.79,316.02 48.26,315.62 49.74,315.22 51.21,314.82 52.68,314.42 54.15,314.02 55.62,313.62 57.09,313.22 58.56,312.82 60.03,312.41 61.51,312.01 62.98,311.61 64.45,311.21 65.92,310.81 67.39,310.41 68.86,310.01 70.33,309.61 71.80,309.21 73.27,308.81 74.75,308.40 76.22,308.00 77.69,307.60 79.16,307.20 80.63,306.80 82.10,306.40 83.57,306.00 85.04,305.60 86.51,305.20 87.99,304.79 89.46,304.39 90.93,303.99 92.40,303.59 93.87,303.19 95.34,302.79 96.81,302.39 98.28,301.99 99.76,301.59" fill="none" stroke="#edb120" stroke-width="1.1" stroke-linejoin="round" clip-path="url(#cpc)"/>
<polyline points="99.76,224.63 99.87,224.64 99.98,224.66 100.10,224.67 100.21,224.68 100.32,224.70 100.44,224.71 100.55,224.73 100.67,224.74 100.78,224.76 100.89,224.77 101.01,224.79 101.12,224.80 101.23,224.81 101.35,224.83 101.46,224.84 101.58,224.86 101.69,224.87 101.80,224.89 101.92,224.90" fill="none" stroke="#edb120" stroke-width="1.1" stroke-linejoin="round" clip-path="url(#cpc)"/>
<polyline points="27.67,325.17 29.14,324.77 30.61,324.37 32.08,323.97 33.55,323.57 35.02,323.16 36.50,322.76 37.97,322.36 39.44,321.96 40.91,321.56 42.38,321.16 43.85,320.76 45.32,320.36 46.79,319.96 48.26,319.55 49.74,319.15 51.21,318.75 52.68,318.35 54.15,317.95 55.62,317.55 57.09,317.15 58.56,316.75 60.03,316.35 61.51,315.94 62.98,315.54 64.45,315.14 65.92,314.74 67.39,314.34 68.86,313.94 70.33,313.54 71.80,313.14 73.27,312.74 74.75,312.33 76.22,311.93 77.69,311.53 79.16,311.13 80.63,310.73 82.10,310.33 83.57,309.93 85.04,309.53 86.51,309.13 87.99,308.72 89.46,308.32 90.93,307.92 92.40,307.52 93.87,307.12 95.34,306.72 96.81,306.32 98.28,305.92 99.76,305.52" fill="none" stroke="#7e2f8e" stroke-width="1.1" stroke-linejoin="round" clip-path="url(#cpc)"/>
<polyline points="99.76,224.63 100.51,224.72 101.27,224.82 102.03,224.91 102.79,225.01 103.55,225.11 104.31,225.20 105.07,225.30 105.83,225.39 106.58,225.49 107.34,225.59 108.10,225.68 108.86,225.78 109.62,225.87 110.38,225.97 111.14,226.06 111.90,226.16 112.66,226.26 113.41,226.35 114.17,226.45" fill="none" stroke="#7e2f8e" stroke-width="1.1" stroke-linejoin="round" clip-path="url(#cpc)"/>
<polyline points="27.67,338.00 29.14,337.59 30.61,337.19 32.08,336.79 33.55,336.39 35.02,335.99 36.50,335.59 37.97,335.19 39.44,334.79 40.91,334.39 42.38,333.99 43.85,333.58 45.32,333.18 46.79,332.78 48.26,332.38 49.74,331.98 51.21,331.58 52.68,331.18 54.15,330.78 55.62,330.38 57.09,329.97 58.56,329.57 60.03,329.17 61.51,328.77 62.98,328.37 64.45,327.97 65.92,327.57 67.39,327.17 68.86,326.77 70.33,326.36 71.80,325.96 73.27,325.56 74.75,325.16 76.22,324.76 77.69,324.36 79.16,323.96 80.63,323.56 82.10,323.16 83.57,322.75 85.04,322.35 86.51,321.95 87.99,321.55 89.46,321.15 90.93,320.75 92.40,320.35 93.87,319.95 95.34,319.55 96.81,319.14 98.28,318.74 99.76,318.34" fill="none" stroke="#77ac30" stroke-width="1.1" stroke-linejoin="round" clip-path="url(#cpc)"/>
<polyline points="99.76,224.63 102.30,224.95 104.84,225.27 107.38,225.59 109.92,225.91 112.47,226.23 115.01,226.55 117.55,226.87 120.09,227.19 122.63,227.52 125.18,227.84 127.72,228.16 130.26,228.48 132.80,228.80 135.34,229.12 137.89,229.44 140.43,229.76 142.97,230.08 145.51,230.40 148.05,230.73" fill="none" stroke="#77ac30" stroke-width="1.1" stroke-linejoin="round" clip-path="url(#cpc)"/>
<polyline points="27.67,378.34 29.14,377.95 30.61,377.56 32.08,377.17 33.55,376.78 35.02,376.40 36.50,376.01 37.97,375.62 39.44,375.23 40.91,374.84 42.38,374.45 43.85,374.06 45.32,373.68 46.79,373.29 48.26,372.90 49.74,372.51 51.21,372.12 52.68,371.73 54.15,371.35 55.62,370.96 57.09,370.57 58.56,370.18 60.03,369.79 61.51,369.40 62.98,369.02 64.45,368.63 65.92,368.24 67.39,367.85 68.86,367.46 70.33,367.07 71.80,366.68 73.27,366.30 74.75,365.91 76.22,365.52 77.69,365.13 79.16,364.74 80.63,364.35 82.10,363.97 83.57,363.58 85.04,363.19 86.51,362.80 87.99,362.41 89.46,362.02 90.93,361.64 92.40,361.25 93.87,360.86 95.34,360.47 96.81,360.08 98.28,359.69 99.76,359.30" fill="none" stroke="#4dbeee" stroke-width="1.1" stroke-linejoin="round" clip-path="url(#cpc)"/>
<polyline points="99.76,225.25 107.72,226.45 115.69,227.63 123.66,228.79 131.63,229.93 139.59,231.05 147.56,232.15 155.53,233.24 163.50,234.30 171.46,235.34 179.43,236.36 187.40,237.35 195.37,238.33 203.33,239.29 211.30,240.23 219.27,241.15 227.23,242.05 235.20,242.93 243.17,243.79 251.14,244.62" fill="none" stroke="#4dbeee" stroke-width="1.1" stroke-linejoin="round" clip-path="url(#cpc)"/>
<rect x="40.5" y="217.8" width="212.80" height="153.40" fill="none" stroke="#262626" stroke-width="1"/>
<path d="M63.71,371.2v-2.1M63.71,217.8v2.1M99.76,371.2v-2.1M99.76,217.8v2.1M135.80,371.2v-2.1M135.80,217.8v2.1M171.84,371.2v-2.1M171.84,217.8v2.1M207.89,371.2v-2.1M207.89,217.8v2.1M243.93,371.2v-2.1M243.93,217.8v2.1M40.5,361.79h2.1M253.3,361.79h-2.1M40.5,341.10h2.1M253.3,341.10h-2.1M40.5,320.41h2.1M253.3,320.41h-2.1M40.5,299.72h2.1M253.3,299.72h-2.1M40.5,279.04h2.1M253.3,279.04h-2.1M40.5,258.35h2.1M253.3,258.35h-2.1M40.5,237.66h2.1M253.3,237.66h-2.1" stroke="#262626" stroke-width="0.9" fill="none"/>
<g font-size="9.3" text-anchor="middle">
<text x="63.71" y="381.90">0.95</text>
<text x="99.76" y="381.90">1</text>
<text x="135.80" y="381.90">1.05</text>
<text x="171.84" y="381.90">1.1</text>
<text x="207.89" y="381.90">1.15</text>
<text x="243.93" y="381.90">1.2</text>
</g>
<g font-size="9.3" text-anchor="end">
<text x="37.50" y="364.79">0</text>
<text x="37.50" y="344.10">0.1</text>
<text x="37.50" y="323.41">0.2</text>
<text x="37.50" y="302.72">0.3</text>
<text x="37.50" y="282.04">0.4</text>
<text x="37.50" y="261.35">0.5</text>
<text x="37.50" y="240.66">0.6</text>
</g>
<text x="146.90" y="392.40" text-anchor="middle" font-size="9.5">R/R<tspan font-size="7.98" dy="4.75">P</tspan></text>
<text transform="translate(22.00,294.50) rotate(-90)" text-anchor="middle" font-size="9.5">Circumferential stress [GPa]</text>
<text x="256.8" y="226.0" class="tg" textLength="10.4" lengthAdjust="spacingAndGlyphs">(c)</text>
<clipPath id="cpd"><rect x="315.6" y="216.7" width="212.60000000000002" height="154.5"/></clipPath>
<polyline points="315.60,246.50 316.41,245.21 317.23,243.81 318.04,242.47 318.85,241.20 319.67,239.99 320.48,238.84 321.29,237.74 322.10,236.70 322.92,235.71 323.73,234.78 324.54,233.89 325.36,233.05 326.17,232.25 326.98,231.50 327.80,230.79 328.61,230.12 329.42,229.48 330.23,228.88 331.05,228.32 331.86,227.78 332.67,227.27 333.49,226.79 334.30,226.34 335.11,225.90 335.93,225.49 336.74,225.10 337.55,224.72 338.36,224.36 339.18,224.01 342.20,222.86 345.22,221.89 348.25,221.10 351.27,220.46 354.29,219.96 357.31,219.58 360.34,219.31 363.36,219.12 366.38,219.00 369.41,218.93 372.43,218.90 375.45,218.89 378.47,218.88 381.50,218.87 384.52,218.88 387.54,218.89 390.56,218.92 393.59,218.96 396.61,219.03 399.63,219.12 402.66,219.23 405.68,219.38 408.70,219.55 411.72,219.76 414.75,220.01 417.77,220.29 420.79,220.62 423.82,221.00 426.84,221.44 429.86,221.96 432.88,222.57 435.91,223.27 438.93,224.10 441.95,225.05 444.97,226.14 448.00,227.39 451.02,228.81 454.04,230.40 457.07,232.20 457.86,232.70 458.66,233.22 459.45,233.76 460.25,234.31 461.04,234.87 461.83,235.46 462.63,236.06 463.42,236.68 464.22,237.32 465.01,237.98 465.81,238.67 466.60,239.38 467.40,240.12 468.19,240.89 468.99,241.68 469.78,242.51 470.58,243.36 471.37,244.25 472.17,245.17 472.96,246.13 473.76,247.13 474.55,248.16 475.35,249.23 476.14,250.35 476.93,251.50 477.73,252.70 478.52,253.94 479.32,255.23 480.11,256.57 480.91,257.95 481.70,259.39 482.50,260.89 483.29,262.45 484.09,264.08 484.88,265.79 485.68,267.57 486.47,269.43 487.27,271.38 488.06,273.43 488.86,275.57 489.65,277.81 490.45,280.15 491.24,282.58 492.04,285.10 492.83,287.71 493.62,290.38 494.42,293.13 495.21,295.94 496.01,298.80 496.80,301.72 497.60,304.68 498.39,307.69 499.19,310.73 499.98,313.80 500.78,316.89 501.57,319.99 502.37,323.11 503.16,326.24 503.96,329.38 504.75,332.51 505.55,335.64 506.34,338.77 507.14,341.88 507.93,344.94 508.73,347.94 509.52,350.83 510.31,353.59 511.11,356.19 511.90,358.59 512.70,360.77 513.49,362.73 514.29,364.46 515.08,365.98 515.88,367.30 516.67,368.41 517.47,369.33 518.26,370.06 519.06,370.61 519.85,370.98" fill="none" stroke="#000000" stroke-width="1.1" stroke-linejoin="round" clip-path="url(#cpd)"/>
<polyline points="315.60,246.50 316.41,245.04 317.23,243.65 318.04,242.32 318.85,241.06 319.67,239.85 320.48,238.71 321.29,237.62 322.10,236.58 322.92,235.60 323.73,234.67 324.54,233.79 325.36,232.96 326.17,232.17 326.98,231.42 327.80,230.71 328.61,230.04 329.42,229.41 330.23,228.82 331.05,228.25 331.86,227.72 332.67,227.22 333.49,226.74 334.30,226.28 335.11,225.85 335.93,225.44 336.74,225.05 337.55,224.68 338.36,224.32 339.18,223.97 342.20,222.82 345.22,221.86 348.25,221.07 351.27,220.44 354.29,219.95 357.31,219.57 360.34,219.30 363.36,219.12 366.38,219.00 369.41,218.93 372.43,218.90 375.45,218.89 378.47,218.88 381.50,218.87 384.52,218.88 387.54,218.89 390.56,218.92 393.59,218.97 396.61,219.03 399.63,219.12 402.66,219.24 405.68,219.38 408.70,219.56 411.72,219.77 414.75,220.01 417.77,220.30 420.79,220.63 423.82,221.01 426.84,221.46 429.86,221.98 432.88,222.59 435.91,223.30 438.93,224.12 441.95,225.08 444.97,226.18 448.00,227.43 451.02,228.85 454.04,230.46 457.07,232.26 457.86,232.76 458.66,233.29 459.45,233.82 460.25,234.37 461.04,234.94 461.83,235.53 462.63,236.13 463.42,236.75 464.22,237.40 465.01,238.06 465.81,238.75 466.60,239.47 467.40,240.21 468.19,240.98 468.99,241.78 469.78,242.61 470.58,243.47 471.37,244.36 472.17,245.29 472.96,246.25 473.76,247.25 474.55,248.29 475.35,249.36 476.14,250.48 476.93,251.64 477.73,252.84 478.52,254.09 479.32,255.39 480.11,256.73 480.91,258.12 481.70,259.57 482.50,261.07 483.29,262.64 484.09,264.28 484.88,265.99 485.68,267.78 486.47,269.66 487.27,271.62 488.06,273.67 488.86,275.83 489.65,278.08 490.45,280.43 491.24,282.88 492.04,285.41 492.83,288.02 493.62,290.70 494.42,293.46 495.21,296.27 496.01,299.15 496.80,302.07 497.60,305.04 498.39,308.05 499.19,311.09 499.98,314.16 500.78,317.25 501.57,320.36 502.37,323.48 503.16,326.61 503.96,329.75 504.75,332.88 505.55,336.01 506.34,339.14 507.14,342.24 507.93,345.30 508.73,348.29 509.52,351.17 510.31,353.91 511.11,356.48 511.90,358.86 512.70,361.01 513.49,362.94 514.29,364.65 515.08,366.15 515.88,367.44 516.67,368.53 517.47,369.42 518.26,370.13 519.06,370.66" fill="none" stroke="#d95319" stroke-width="1.1" stroke-linejoin="round" clip-path="url(#cpd)"/>
<polyline points="315.60,246.50 316.41,245.06 317.23,243.70 318.04,242.39 318.85,241.14 319.67,239.95 320.48,238.82 321.29,237.75 322.10,236.72 322.92,235.75 323.73,234.83 324.54,233.95 325.36,233.12 326.17,232.33 326.98,231.58 327.80,230.88 328.61,230.21 329.42,229.57 330.23,228.97 331.05,228.41 331.86,227.87 332.67,227.36 333.49,226.88 334.30,226.42 335.11,225.99 335.93,225.58 336.74,225.18 337.55,224.80 338.36,224.44 339.18,224.10 342.20,222.95 345.22,222.00 348.25,221.22 351.27,220.61 354.29,220.14 357.31,219.79 360.34,219.54 363.36,219.38 366.38,219.29 369.41,219.24 372.43,219.23 375.45,219.22 378.47,219.22 381.50,219.21 384.52,219.21 387.54,219.22 390.56,219.24 393.59,219.28 396.61,219.33 399.63,219.41 402.66,219.52 405.68,219.66 408.70,219.83 411.72,220.05 414.75,220.31 417.77,220.61 420.79,220.97 423.82,221.38 426.84,221.87 429.86,222.43 432.88,223.08 435.91,223.84 438.93,224.70 441.95,225.69 444.97,226.82 448.00,228.09 451.02,229.51 454.04,231.11 457.07,232.92 457.86,233.43 458.66,233.97 459.45,234.52 460.25,235.08 461.04,235.67 461.83,236.28 462.63,236.91 463.42,237.56 464.22,238.24 465.01,238.94 465.81,239.67 466.60,240.43 467.40,241.22 468.19,242.04 468.99,242.89 469.78,243.78 470.58,244.70 471.37,245.66 472.17,246.64 472.96,247.64 473.76,248.67 474.55,249.72 475.35,250.80 476.14,251.91 476.93,253.07 477.73,254.26 478.52,255.50 479.32,256.79 480.11,258.14 480.91,259.54 481.70,261.01 482.50,262.54 483.29,264.16 484.09,265.86 484.88,267.65 485.68,269.53 486.47,271.52 487.27,273.59 488.06,275.76 488.86,278.03 489.65,280.39 490.45,282.83 491.24,285.35 492.04,287.94 492.83,290.59 493.62,293.30 494.42,296.05 495.21,298.84 496.01,301.69 496.80,304.57 497.60,307.51 498.39,310.49 499.19,313.51 499.98,316.57 500.78,319.67 501.57,322.78 502.37,325.91 503.16,329.05 503.96,332.17 504.75,335.29 505.55,338.38 506.34,341.44 507.14,344.46 507.93,347.41 508.73,350.27 509.52,353.00 510.31,355.58 511.11,357.99 511.90,360.20 512.70,362.19 513.49,363.97 514.29,365.54 515.08,366.89 515.88,368.04 516.67,368.98 517.47,369.74 518.26,370.32 519.06,370.75" fill="none" stroke="#edb120" stroke-width="1.1" stroke-linejoin="round" clip-path="url(#cpd)"/>
<polyline points="315.60,246.48 316.41,245.11 317.23,243.79 318.04,242.53 318.85,241.32 319.67,240.17 320.48,239.07 321.29,238.02 322.10,237.02 322.92,236.06 323.73,235.15 324.54,234.29 325.36,233.46 326.17,232.68 326.98,231.93 327.80,231.22 328.61,230.55 329.42,229.91 330.23,229.31 331.05,228.74 331.86,228.19 332.67,227.68 333.49,227.19 334.30,226.72 335.11,226.28 335.93,225.86 336.74,225.46 337.55,225.07 338.36,224.71 339.18,224.36 342.20,223.22 345.22,222.28 348.25,221.54 351.27,220.96 354.29,220.54 357.31,220.24 360.34,220.05 363.36,219.94 366.38,219.90 369.41,219.89 372.43,219.91 375.45,219.93 378.47,219.94 381.50,219.94 384.52,219.93 387.54,219.92 390.56,219.92 393.59,219.93 396.61,219.97 399.63,220.03 402.66,220.12 405.68,220.25 408.70,220.42 411.72,220.65 414.75,220.93 417.77,221.27 420.79,221.68 423.82,222.17 426.84,222.74 429.86,223.39 432.88,224.14 435.91,224.98 438.93,225.93 441.95,227.00 444.97,228.18 448.00,229.48 451.02,230.91 454.04,232.50 457.07,234.33 457.86,234.86 458.66,235.41 459.45,235.99 460.25,236.59 461.04,237.22 461.83,237.87 462.63,238.56 463.42,239.28 464.22,240.02 465.01,240.81 465.81,241.62 466.60,242.48 467.40,243.37 468.19,244.30 468.99,245.27 469.78,246.28 470.58,247.33 471.37,248.42 472.17,249.51 472.96,250.60 473.76,251.68 474.55,252.76 475.35,253.85 476.14,254.96 476.93,256.09 477.73,257.27 478.52,258.49 479.32,259.77 480.11,261.12 480.91,262.55 481.70,264.06 482.50,265.67 483.29,267.38 484.09,269.21 484.88,271.17 485.68,273.25 486.47,275.46 487.27,277.78 488.06,280.20 488.86,282.71 489.65,285.29 490.45,287.92 491.24,290.61 492.04,293.32 492.83,296.06 493.62,298.80 494.42,301.55 495.21,304.31 496.01,307.09 496.80,309.90 497.60,312.75 498.39,315.67 499.19,318.65 499.98,321.69 500.78,324.79 501.57,327.92 502.37,331.07 503.16,334.21 503.96,337.33 504.75,340.40 505.55,343.42 506.34,346.35 507.14,349.18 507.93,351.89 508.73,354.47 509.52,356.89 510.31,359.13 511.11,361.18 511.90,363.04 512.70,364.70 513.49,366.16 514.29,367.42 515.08,368.47 515.88,369.31 516.67,369.95 517.47,370.41 518.26,370.72" fill="none" stroke="#7e2f8e" stroke-width="1.1" stroke-linejoin="round" clip-path="url(#cpd)"/>
<polyline points="315.60,246.43 316.41,245.58 317.23,244.68 318.04,243.75 318.85,242.79 319.67,241.81 320.48,240.83 321.29,239.84 322.10,238.86 322.92,237.88 323.73,236.93 324.54,236.01 325.36,235.12 326.17,234.28 326.98,233.49 327.80,232.75 328.61,232.08 329.42,231.45 330.23,230.87 331.05,230.33 331.86,229.84 332.67,229.38 333.49,228.95 334.30,228.55 335.11,228.18 335.93,227.83 336.74,227.49 337.55,227.17 338.36,226.86 339.18,226.56 342.20,225.54 345.22,224.67 348.25,223.93 351.27,223.32 354.29,222.82 357.31,222.42 360.34,222.11 363.36,221.87 366.38,221.71 369.41,221.60 372.43,221.53 375.45,221.50 378.47,221.49 381.50,221.51 384.52,221.56 387.54,221.63 390.56,221.74 393.59,221.88 396.61,222.06 399.63,222.27 402.66,222.52 405.68,222.81 408.70,223.15 411.72,223.52 414.75,223.95 417.77,224.42 420.79,224.96 423.82,225.57 426.84,226.27 429.86,227.08 432.88,228.01 435.91,229.08 438.93,230.29 441.95,231.67 444.97,233.24 448.00,234.99 451.02,236.96 454.04,239.16 457.07,241.62 457.86,242.32 458.66,243.04 459.45,243.78 460.25,244.54 461.04,245.32 461.83,246.13 462.63,246.96 463.42,247.82 464.22,248.70 465.01,249.61 465.81,250.54 466.60,251.50 467.40,252.49 468.19,253.51 468.99,254.56 469.78,255.63 470.58,256.74 471.37,257.88 472.17,259.06 472.96,260.29 473.76,261.56 474.55,262.90 475.35,264.29 476.14,265.75 476.93,267.28 477.73,268.88 478.52,270.57 479.32,272.35 480.11,274.22 480.91,276.19 481.70,278.24 482.50,280.37 483.29,282.57 484.09,284.84 484.88,287.17 485.68,289.54 486.47,291.96 487.27,294.40 488.06,296.87 488.86,299.36 489.65,301.86 490.45,304.40 491.24,306.98 492.04,309.61 492.83,312.30 493.62,315.08 494.42,317.94 495.21,320.89 496.01,323.93 496.80,327.03 497.60,330.16 498.39,333.30 499.19,336.43 499.98,339.52 500.78,342.56 501.57,345.52 502.37,348.38 503.16,351.12 503.96,353.70 504.75,356.11 505.55,358.33 506.34,360.34 507.14,362.12 507.93,363.71 508.73,365.10 509.52,366.31 510.31,367.35 511.11,368.24 511.90,368.98 512.70,369.59 513.49,370.08 514.29,370.46 515.08,370.75" fill="none" stroke="#77ac30" stroke-width="1.1" stroke-linejoin="round" clip-path="url(#cpd)"/>
<polyline points="315.60,246.82 316.41,246.10 317.23,245.41 318.04,244.73 318.85,244.07 319.67,243.44 320.48,242.82 321.29,242.23 322.10,241.65 322.92,241.10 323.73,240.56 324.54,240.04 325.36,239.54 326.17,239.05 326.98,238.59 327.80,238.14 328.61,237.71 329.42,237.29 330.23,236.89 331.05,236.51 331.86,236.14 332.67,235.79 333.49,235.45 334.30,235.12 335.11,234.81 335.93,234.52 336.74,234.24 337.55,233.97 338.36,233.71 339.18,233.47 342.20,232.67 345.22,232.02 348.25,231.50 351.27,231.11 354.29,230.81 357.31,230.61 360.34,230.46 363.36,230.37 366.38,230.32 369.41,230.29 372.43,230.28 375.45,230.32 378.47,230.39 381.50,230.52 384.52,230.71 387.54,230.96 390.56,231.29 393.59,231.71 396.61,232.21 399.63,232.81 402.66,233.52 405.68,234.34 408.70,235.28 411.72,236.36 414.75,237.56 417.77,238.92 420.79,240.43 423.82,242.09 426.84,243.93 429.86,245.94 432.88,248.13 435.91,250.52 438.93,253.12 441.95,256.00 444.97,259.23 448.00,262.89 451.02,267.04 454.04,271.69 457.07,276.79 457.86,278.20 458.66,279.63 459.45,281.08 460.25,282.55 461.04,284.04 461.83,285.56 462.63,287.11 463.42,288.68 464.22,290.29 465.01,291.94 465.81,293.62 466.60,295.35 467.40,297.13 468.19,298.95 468.99,300.82 469.78,302.76 470.58,304.74 471.37,306.79 472.17,308.91 472.96,311.09 473.76,313.34 474.55,315.67 475.35,318.07 476.14,320.55 476.93,323.10 477.73,325.70 478.52,328.34 479.32,331.00 480.11,333.67 480.91,336.33 481.70,338.97 482.50,341.58 483.29,344.13 484.09,346.62 484.88,349.02 485.68,351.34 486.47,353.54 487.27,355.61 488.06,357.54 488.86,359.32 489.65,360.94 490.45,362.40 491.24,363.72 492.04,364.89 492.83,365.94 493.62,366.86 494.42,367.67 495.21,368.36 496.01,368.96 496.80,369.47 497.60,369.89 498.39,370.24 499.19,370.51 499.98,370.73" fill="none" stroke="#4dbeee" stroke-width="1.1" stroke-linejoin="round" clip-path="url(#cpd)"/>
<rect x="315.6" y="216.7" width="212.60" height="154.50" fill="none" stroke="#262626" stroke-width="1"/>
<path d="M315.60,371.2v-2.1M315.60,216.7v2.1M362.76,371.2v-2.1M362.76,216.7v2.1M409.91,371.2v-2.1M409.91,216.7v2.1M457.07,371.2v-2.1M457.07,216.7v2.1M504.22,371.2v-2.1M504.22,216.7v2.1M315.6,371.20h2.1M528.2,371.20h-2.1M315.6,349.13h2.1M528.2,349.13h-2.1M315.6,327.06h2.1M528.2,327.06h-2.1M315.6,304.99h2.1M528.2,304.99h-2.1M315.6,282.91h2.1M528.2,282.91h-2.1M315.6,260.84h2.1M528.2,260.84h-2.1M315.6,238.77h2.1M528.2,238.77h-2.1M315.6,216.70h2.1M528.2,216.70h-2.1" stroke="#262626" stroke-width="0.9" fill="none"/>
<g font-size="9.3" text-anchor="middle">
<text x="315.60" y="381.90">0</text>
<text x="362.76" y="381.90">0.2</text>
<text x="409.91" y="381.90">0.4</text>
<text x="457.07" y="381.90">0.6</text>
<text x="504.22" y="381.90">0.8</text>
</g>
<g font-size="9.3" text-anchor="end">
<text x="312.60" y="374.20">0</text>
<text x="312.60" y="352.13">2</text>
<text x="312.60" y="330.06">4</text>
<text x="312.60" y="307.99">6</text>
<text x="312.60" y="285.91">8</text>
<text x="312.60" y="263.84">10</text>
<text x="312.60" y="241.77">12</text>
<text x="312.60" y="219.70">14</text>
</g>
<text x="421.90" y="392.90" text-anchor="middle" font-size="9.5">(R<tspan font-size="7.98" dy="4.75">P</tspan><tspan dy="-4.75">-R</tspan><tspan font-size="7.98" dy="4.75">Γ</tspan><tspan dy="-4.75">)/R</tspan><tspan font-size="7.98" dy="4.75">P</tspan></text>
<text transform="translate(299.50,293.95) rotate(-90)" text-anchor="middle" font-size="9.5">Reaction front velocity [nm/s]</text>
<text x="531.7" y="224.3" class="tg" textLength="11.0" lengthAdjust="spacingAndGlyphs">(d)</text>
<rect x="317.2" y="282.1" width="60.69999999999999" height="85.79999999999995" fill="#fff" stroke="#262626" stroke-width="0.9"/>
<path d="M319.40,288.70h7.5" stroke="#000000" stroke-width="1.1"/>
<text x="328.20" y="291.70" class="lg">No coating</text>
<path d="M319.40,302.00h7.5" stroke="#d95319" stroke-width="1.1"/>
<text x="328.20" y="306.50" class="lg">10<tspan class="sp" dy="-4.6">-1</tspan><tspan dy="4.6"> nm</tspan></text>
<path d="M319.40,316.15h7.5" stroke="#edb120" stroke-width="1.1"/>
<text x="328.20" y="320.65" class="lg">10<tspan class="sp" dy="-4.6">0</tspan><tspan dy="4.6"> nm</tspan></text>
<path d="M319.40,330.60h7.5" stroke="#7e2f8e" stroke-width="1.1"/>
<text x="328.20" y="335.10" class="lg">10<tspan class="sp" dy="-4.6">0.5</tspan><tspan dy="4.6"> nm</tspan></text>
<path d="M319.40,345.06h7.5" stroke="#77ac30" stroke-width="1.1"/>
<text x="328.20" y="349.56" class="lg">10<tspan class="sp" dy="-4.6">1</tspan><tspan dy="4.6"> nm</tspan></text>
<path d="M319.40,360.15h7.5" stroke="#4dbeee" stroke-width="1.1"/>
<text x="328.20" y="364.65" class="lg">10<tspan class="sp" dy="-4.6">1.5</tspan><tspan dy="4.6"> nm</tspan></text>
</svg>
</body></html>
